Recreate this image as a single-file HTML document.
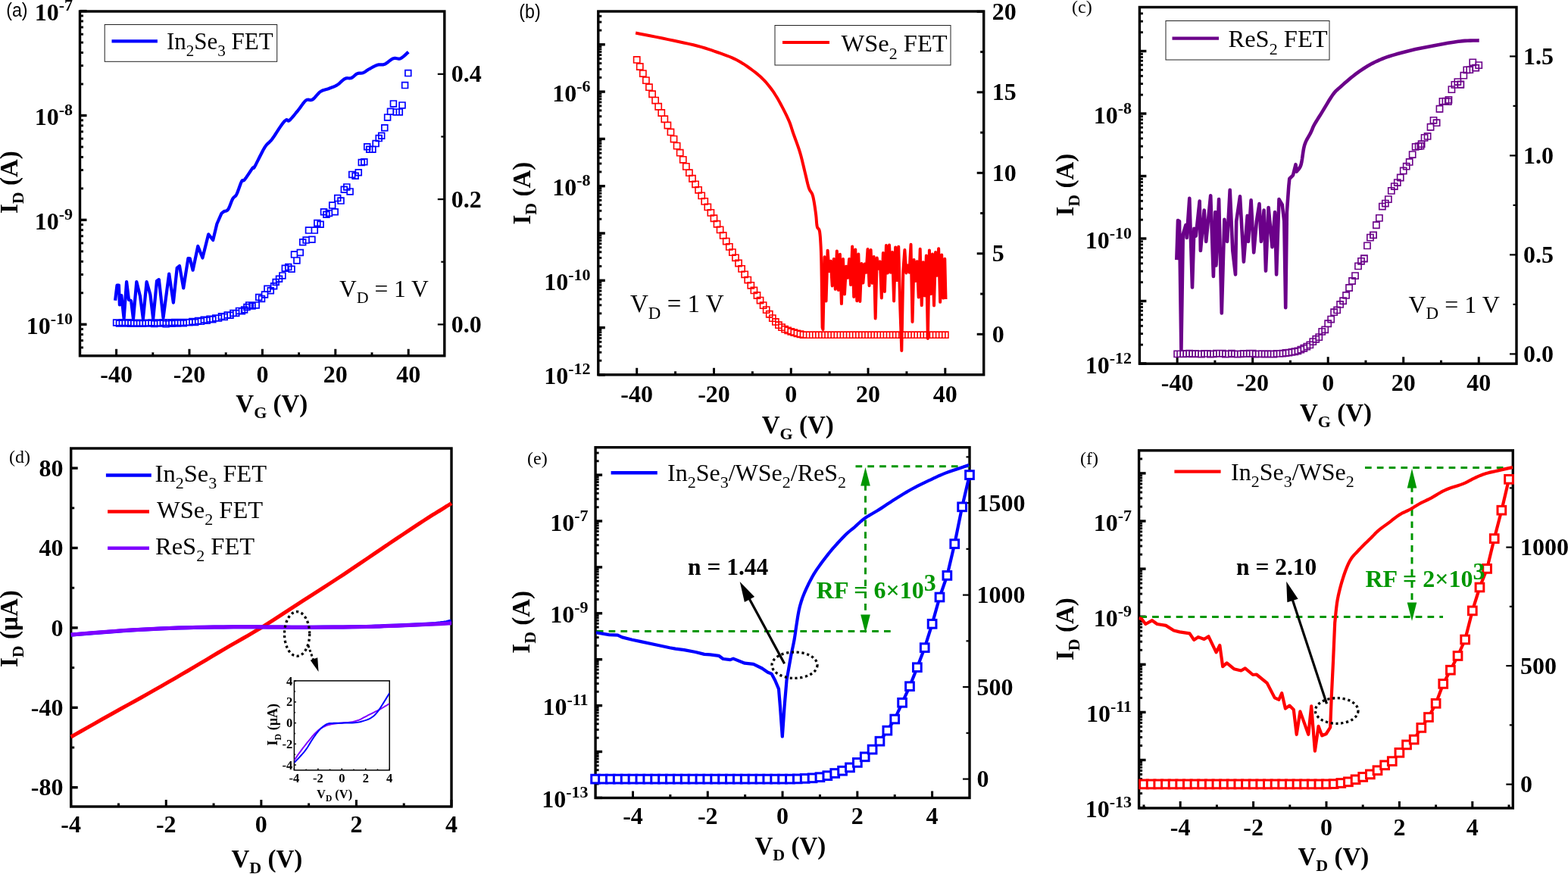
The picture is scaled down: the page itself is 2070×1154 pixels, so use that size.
<!DOCTYPE html>
<html><head><meta charset="utf-8"><style>
html,body{margin:0;padding:0;background:#fff;}
svg{display:block;}
</style></head><body>
<svg width="2070" height="1154" viewBox="0 0 2070 1154">
<rect width="2070" height="1154" fill="#fff"/>
<rect x="105.5" y="15" width="481.3" height="454.8" fill="none" stroke="#000" stroke-width="3.4"/>
<line x1="153.6" y1="469.8" x2="153.6" y2="460.8" stroke="#000" stroke-width="3" />
<line x1="250" y1="469.8" x2="250" y2="460.8" stroke="#000" stroke-width="3" />
<line x1="346.4" y1="469.8" x2="346.4" y2="460.8" stroke="#000" stroke-width="3" />
<line x1="442.8" y1="469.8" x2="442.8" y2="460.8" stroke="#000" stroke-width="3" />
<line x1="539.2" y1="469.8" x2="539.2" y2="460.8" stroke="#000" stroke-width="3" />
<line x1="201.8" y1="469.8" x2="201.8" y2="465.3" stroke="#000" stroke-width="3" />
<line x1="298.2" y1="469.8" x2="298.2" y2="465.3" stroke="#000" stroke-width="3" />
<line x1="394.6" y1="469.8" x2="394.6" y2="465.3" stroke="#000" stroke-width="3" />
<line x1="491" y1="469.8" x2="491" y2="465.3" stroke="#000" stroke-width="3" />
<text x="153.6" y="504.5" font-family="'Liberation Serif','Times New Roman',serif" font-size="32" font-weight="bold" text-anchor="middle" >-40</text>
<text x="250" y="504.5" font-family="'Liberation Serif','Times New Roman',serif" font-size="32" font-weight="bold" text-anchor="middle" >-20</text>
<text x="346.4" y="504.5" font-family="'Liberation Serif','Times New Roman',serif" font-size="32" font-weight="bold" text-anchor="middle" >0</text>
<text x="442.8" y="504.5" font-family="'Liberation Serif','Times New Roman',serif" font-size="32" font-weight="bold" text-anchor="middle" >20</text>
<text x="539.2" y="504.5" font-family="'Liberation Serif','Times New Roman',serif" font-size="32" font-weight="bold" text-anchor="middle" >40</text>
<line x1="105.5" y1="14.6" x2="114.5" y2="14.6" stroke="#000" stroke-width="3.4" />
<line x1="105.5" y1="152.5" x2="114.5" y2="152.5" stroke="#000" stroke-width="3.4" />
<line x1="105.5" y1="290.4" x2="114.5" y2="290.4" stroke="#000" stroke-width="3.4" />
<line x1="105.5" y1="428.3" x2="114.5" y2="428.3" stroke="#000" stroke-width="3.4" />
<line x1="105.5" y1="458.89" x2="110" y2="458.89" stroke="#000" stroke-width="2.9" />
<line x1="105.5" y1="449.66" x2="110" y2="449.66" stroke="#000" stroke-width="2.9" />
<line x1="105.5" y1="441.66" x2="110" y2="441.66" stroke="#000" stroke-width="2.9" />
<line x1="105.5" y1="434.61" x2="110" y2="434.61" stroke="#000" stroke-width="2.9" />
<line x1="105.5" y1="386.79" x2="110" y2="386.79" stroke="#000" stroke-width="2.9" />
<line x1="105.5" y1="362.5" x2="110" y2="362.5" stroke="#000" stroke-width="2.9" />
<line x1="105.5" y1="345.28" x2="110" y2="345.28" stroke="#000" stroke-width="2.9" />
<line x1="105.5" y1="331.91" x2="110" y2="331.91" stroke="#000" stroke-width="2.9" />
<line x1="105.5" y1="320.99" x2="110" y2="320.99" stroke="#000" stroke-width="2.9" />
<line x1="105.5" y1="311.76" x2="110" y2="311.76" stroke="#000" stroke-width="2.9" />
<line x1="105.5" y1="303.76" x2="110" y2="303.76" stroke="#000" stroke-width="2.9" />
<line x1="105.5" y1="296.71" x2="110" y2="296.71" stroke="#000" stroke-width="2.9" />
<line x1="105.5" y1="248.89" x2="110" y2="248.89" stroke="#000" stroke-width="2.9" />
<line x1="105.5" y1="224.6" x2="110" y2="224.6" stroke="#000" stroke-width="2.9" />
<line x1="105.5" y1="207.38" x2="110" y2="207.38" stroke="#000" stroke-width="2.9" />
<line x1="105.5" y1="194.01" x2="110" y2="194.01" stroke="#000" stroke-width="2.9" />
<line x1="105.5" y1="183.09" x2="110" y2="183.09" stroke="#000" stroke-width="2.9" />
<line x1="105.5" y1="173.86" x2="110" y2="173.86" stroke="#000" stroke-width="2.9" />
<line x1="105.5" y1="165.86" x2="110" y2="165.86" stroke="#000" stroke-width="2.9" />
<line x1="105.5" y1="158.81" x2="110" y2="158.81" stroke="#000" stroke-width="2.9" />
<line x1="105.5" y1="110.99" x2="110" y2="110.99" stroke="#000" stroke-width="2.9" />
<line x1="105.5" y1="86.7" x2="110" y2="86.7" stroke="#000" stroke-width="2.9" />
<line x1="105.5" y1="69.48" x2="110" y2="69.48" stroke="#000" stroke-width="2.9" />
<line x1="105.5" y1="56.11" x2="110" y2="56.11" stroke="#000" stroke-width="2.9" />
<line x1="105.5" y1="45.19" x2="110" y2="45.19" stroke="#000" stroke-width="2.9" />
<line x1="105.5" y1="35.96" x2="110" y2="35.96" stroke="#000" stroke-width="2.9" />
<line x1="105.5" y1="27.96" x2="110" y2="27.96" stroke="#000" stroke-width="2.9" />
<line x1="105.5" y1="20.91" x2="110" y2="20.91" stroke="#000" stroke-width="2.9" />
<text x="96" y="27.1" font-family="'Liberation Serif','Times New Roman',serif" font-size="32" font-weight="bold" text-anchor="end">10<tspan font-size="22" dy="-13">-7</tspan></text>
<text x="96" y="165" font-family="'Liberation Serif','Times New Roman',serif" font-size="32" font-weight="bold" text-anchor="end">10<tspan font-size="22" dy="-13">-8</tspan></text>
<text x="96" y="302.9" font-family="'Liberation Serif','Times New Roman',serif" font-size="32" font-weight="bold" text-anchor="end">10<tspan font-size="22" dy="-13">-9</tspan></text>
<text x="96" y="440.8" font-family="'Liberation Serif','Times New Roman',serif" font-size="32" font-weight="bold" text-anchor="end">10<tspan font-size="22" dy="-13">-10</tspan></text>
<line x1="586.8" y1="428.4" x2="577.8" y2="428.4" stroke="#000" stroke-width="2.2" />
<line x1="586.8" y1="263.1" x2="577.8" y2="263.1" stroke="#000" stroke-width="2.2" />
<line x1="586.8" y1="97.8" x2="577.8" y2="97.8" stroke="#000" stroke-width="2.2" />
<line x1="586.8" y1="345.75" x2="582.3" y2="345.75" stroke="#000" stroke-width="2.2" />
<line x1="586.8" y1="180.45" x2="582.3" y2="180.45" stroke="#000" stroke-width="2.2" />
<text x="595.8" y="439" font-family="'Liberation Serif','Times New Roman',serif" font-size="32" font-weight="bold" text-anchor="start" >0.0</text>
<text x="595.8" y="273.7" font-family="'Liberation Serif','Times New Roman',serif" font-size="32" font-weight="bold" text-anchor="start" >0.2</text>
<text x="595.8" y="108.4" font-family="'Liberation Serif','Times New Roman',serif" font-size="32" font-weight="bold" text-anchor="start" >0.4</text>
<text transform="translate(22.7,282) rotate(-90)" font-family="'Liberation Serif','Times New Roman',serif" font-size="33" font-weight="bold">I<tspan font-size="22" dy="8">D</tspan><tspan dy="-8"> (A)</tspan></text>
<text x="311.3" y="543.8" font-family="'Liberation Serif','Times New Roman',serif" font-size="33" font-weight="bold">V<tspan font-size="22" dy="8">G</tspan><tspan dy="-8"> (V)</tspan></text>
<text transform="translate(8.2,21.8) scale(0.91,1)" font-family="'Liberation Sans',Arial,sans-serif" font-size="25.5">(a)</text>
<rect x="138.2" y="32.5" width="227.5" height="48.8" fill="none" stroke="#222" stroke-width="1"/>
<line x1="147.5" y1="54.3" x2="207.9" y2="54.3" stroke="#0000ff" stroke-width="4.2" />
<text x="220" y="64.6" font-family="'Liberation Serif','Times New Roman',serif" font-size="31" xml:space="preserve"><tspan font-size="31" dy="0">In</tspan><tspan font-size="21" dy="9">2</tspan><tspan font-size="31" dy="-9">Se</tspan><tspan font-size="21" dy="9">3</tspan><tspan font-size="31" dy="-9"> FET</tspan></text>
<text x="447.9" y="391.8" font-family="'Liberation Serif','Times New Roman',serif" font-size="31.5" xml:space="preserve"><tspan font-size="31.5" dy="0">V</tspan><tspan font-size="22" dy="8.5">D</tspan><tspan font-size="31.5" dy="-8.5"> = 1 V</tspan></text>
<rect x="789.8" y="15" width="508.9" height="479.8" fill="none" stroke="#000" stroke-width="3.4"/>
<line x1="840.69" y1="494.8" x2="840.69" y2="485.8" stroke="#000" stroke-width="3" />
<line x1="942.47" y1="494.8" x2="942.47" y2="485.8" stroke="#000" stroke-width="3" />
<line x1="1044.25" y1="494.8" x2="1044.25" y2="485.8" stroke="#000" stroke-width="3" />
<line x1="1146.03" y1="494.8" x2="1146.03" y2="485.8" stroke="#000" stroke-width="3" />
<line x1="1247.81" y1="494.8" x2="1247.81" y2="485.8" stroke="#000" stroke-width="3" />
<line x1="891.58" y1="494.8" x2="891.58" y2="490.3" stroke="#000" stroke-width="3" />
<line x1="993.36" y1="494.8" x2="993.36" y2="490.3" stroke="#000" stroke-width="3" />
<line x1="1095.14" y1="494.8" x2="1095.14" y2="490.3" stroke="#000" stroke-width="3" />
<line x1="1196.92" y1="494.8" x2="1196.92" y2="490.3" stroke="#000" stroke-width="3" />
<text x="840.69" y="530.5" font-family="'Liberation Serif','Times New Roman',serif" font-size="32" font-weight="bold" text-anchor="middle" >-40</text>
<text x="942.47" y="530.5" font-family="'Liberation Serif','Times New Roman',serif" font-size="32" font-weight="bold" text-anchor="middle" >-20</text>
<text x="1044.25" y="530.5" font-family="'Liberation Serif','Times New Roman',serif" font-size="32" font-weight="bold" text-anchor="middle" >0</text>
<text x="1146.03" y="530.5" font-family="'Liberation Serif','Times New Roman',serif" font-size="32" font-weight="bold" text-anchor="middle" >20</text>
<text x="1247.81" y="530.5" font-family="'Liberation Serif','Times New Roman',serif" font-size="32" font-weight="bold" text-anchor="middle" >40</text>
<line x1="789.8" y1="494.9" x2="798.8" y2="494.9" stroke="#000" stroke-width="3.4" />
<line x1="789.8" y1="432.6" x2="798.8" y2="432.6" stroke="#000" stroke-width="3.4" />
<line x1="789.8" y1="370.3" x2="798.8" y2="370.3" stroke="#000" stroke-width="3.4" />
<line x1="789.8" y1="308" x2="798.8" y2="308" stroke="#000" stroke-width="3.4" />
<line x1="789.8" y1="245.7" x2="798.8" y2="245.7" stroke="#000" stroke-width="3.4" />
<line x1="789.8" y1="183.4" x2="798.8" y2="183.4" stroke="#000" stroke-width="3.4" />
<line x1="789.8" y1="121.1" x2="798.8" y2="121.1" stroke="#000" stroke-width="3.4" />
<line x1="789.8" y1="58.8" x2="798.8" y2="58.8" stroke="#000" stroke-width="3.4" />
<line x1="789.8" y1="476.15" x2="794.3" y2="476.15" stroke="#000" stroke-width="2.9" />
<line x1="789.8" y1="465.18" x2="794.3" y2="465.18" stroke="#000" stroke-width="2.9" />
<line x1="789.8" y1="457.39" x2="794.3" y2="457.39" stroke="#000" stroke-width="2.9" />
<line x1="789.8" y1="451.35" x2="794.3" y2="451.35" stroke="#000" stroke-width="2.9" />
<line x1="789.8" y1="446.42" x2="794.3" y2="446.42" stroke="#000" stroke-width="2.9" />
<line x1="789.8" y1="442.25" x2="794.3" y2="442.25" stroke="#000" stroke-width="2.9" />
<line x1="789.8" y1="438.64" x2="794.3" y2="438.64" stroke="#000" stroke-width="2.9" />
<line x1="789.8" y1="435.45" x2="794.3" y2="435.45" stroke="#000" stroke-width="2.9" />
<line x1="789.8" y1="413.85" x2="794.3" y2="413.85" stroke="#000" stroke-width="2.9" />
<line x1="789.8" y1="402.88" x2="794.3" y2="402.88" stroke="#000" stroke-width="2.9" />
<line x1="789.8" y1="395.09" x2="794.3" y2="395.09" stroke="#000" stroke-width="2.9" />
<line x1="789.8" y1="389.05" x2="794.3" y2="389.05" stroke="#000" stroke-width="2.9" />
<line x1="789.8" y1="384.12" x2="794.3" y2="384.12" stroke="#000" stroke-width="2.9" />
<line x1="789.8" y1="379.95" x2="794.3" y2="379.95" stroke="#000" stroke-width="2.9" />
<line x1="789.8" y1="376.34" x2="794.3" y2="376.34" stroke="#000" stroke-width="2.9" />
<line x1="789.8" y1="373.15" x2="794.3" y2="373.15" stroke="#000" stroke-width="2.9" />
<line x1="789.8" y1="351.55" x2="794.3" y2="351.55" stroke="#000" stroke-width="2.9" />
<line x1="789.8" y1="340.58" x2="794.3" y2="340.58" stroke="#000" stroke-width="2.9" />
<line x1="789.8" y1="332.79" x2="794.3" y2="332.79" stroke="#000" stroke-width="2.9" />
<line x1="789.8" y1="326.75" x2="794.3" y2="326.75" stroke="#000" stroke-width="2.9" />
<line x1="789.8" y1="321.82" x2="794.3" y2="321.82" stroke="#000" stroke-width="2.9" />
<line x1="789.8" y1="317.65" x2="794.3" y2="317.65" stroke="#000" stroke-width="2.9" />
<line x1="789.8" y1="314.04" x2="794.3" y2="314.04" stroke="#000" stroke-width="2.9" />
<line x1="789.8" y1="310.85" x2="794.3" y2="310.85" stroke="#000" stroke-width="2.9" />
<line x1="789.8" y1="289.25" x2="794.3" y2="289.25" stroke="#000" stroke-width="2.9" />
<line x1="789.8" y1="278.28" x2="794.3" y2="278.28" stroke="#000" stroke-width="2.9" />
<line x1="789.8" y1="270.49" x2="794.3" y2="270.49" stroke="#000" stroke-width="2.9" />
<line x1="789.8" y1="264.45" x2="794.3" y2="264.45" stroke="#000" stroke-width="2.9" />
<line x1="789.8" y1="259.52" x2="794.3" y2="259.52" stroke="#000" stroke-width="2.9" />
<line x1="789.8" y1="255.35" x2="794.3" y2="255.35" stroke="#000" stroke-width="2.9" />
<line x1="789.8" y1="251.74" x2="794.3" y2="251.74" stroke="#000" stroke-width="2.9" />
<line x1="789.8" y1="248.55" x2="794.3" y2="248.55" stroke="#000" stroke-width="2.9" />
<line x1="789.8" y1="226.95" x2="794.3" y2="226.95" stroke="#000" stroke-width="2.9" />
<line x1="789.8" y1="215.98" x2="794.3" y2="215.98" stroke="#000" stroke-width="2.9" />
<line x1="789.8" y1="208.19" x2="794.3" y2="208.19" stroke="#000" stroke-width="2.9" />
<line x1="789.8" y1="202.15" x2="794.3" y2="202.15" stroke="#000" stroke-width="2.9" />
<line x1="789.8" y1="197.22" x2="794.3" y2="197.22" stroke="#000" stroke-width="2.9" />
<line x1="789.8" y1="193.05" x2="794.3" y2="193.05" stroke="#000" stroke-width="2.9" />
<line x1="789.8" y1="189.44" x2="794.3" y2="189.44" stroke="#000" stroke-width="2.9" />
<line x1="789.8" y1="186.25" x2="794.3" y2="186.25" stroke="#000" stroke-width="2.9" />
<line x1="789.8" y1="164.65" x2="794.3" y2="164.65" stroke="#000" stroke-width="2.9" />
<line x1="789.8" y1="153.68" x2="794.3" y2="153.68" stroke="#000" stroke-width="2.9" />
<line x1="789.8" y1="145.89" x2="794.3" y2="145.89" stroke="#000" stroke-width="2.9" />
<line x1="789.8" y1="139.85" x2="794.3" y2="139.85" stroke="#000" stroke-width="2.9" />
<line x1="789.8" y1="134.92" x2="794.3" y2="134.92" stroke="#000" stroke-width="2.9" />
<line x1="789.8" y1="130.75" x2="794.3" y2="130.75" stroke="#000" stroke-width="2.9" />
<line x1="789.8" y1="127.14" x2="794.3" y2="127.14" stroke="#000" stroke-width="2.9" />
<line x1="789.8" y1="123.95" x2="794.3" y2="123.95" stroke="#000" stroke-width="2.9" />
<line x1="789.8" y1="102.35" x2="794.3" y2="102.35" stroke="#000" stroke-width="2.9" />
<line x1="789.8" y1="91.38" x2="794.3" y2="91.38" stroke="#000" stroke-width="2.9" />
<line x1="789.8" y1="83.59" x2="794.3" y2="83.59" stroke="#000" stroke-width="2.9" />
<line x1="789.8" y1="77.55" x2="794.3" y2="77.55" stroke="#000" stroke-width="2.9" />
<line x1="789.8" y1="72.62" x2="794.3" y2="72.62" stroke="#000" stroke-width="2.9" />
<line x1="789.8" y1="68.45" x2="794.3" y2="68.45" stroke="#000" stroke-width="2.9" />
<line x1="789.8" y1="64.84" x2="794.3" y2="64.84" stroke="#000" stroke-width="2.9" />
<line x1="789.8" y1="61.65" x2="794.3" y2="61.65" stroke="#000" stroke-width="2.9" />
<line x1="789.8" y1="40.05" x2="794.3" y2="40.05" stroke="#000" stroke-width="2.9" />
<line x1="789.8" y1="29.08" x2="794.3" y2="29.08" stroke="#000" stroke-width="2.9" />
<line x1="789.8" y1="21.29" x2="794.3" y2="21.29" stroke="#000" stroke-width="2.9" />
<text x="779.5" y="133.6" font-family="'Liberation Serif','Times New Roman',serif" font-size="32" font-weight="bold" text-anchor="end">10<tspan font-size="22" dy="-13">-6</tspan></text>
<text x="779.5" y="258.2" font-family="'Liberation Serif','Times New Roman',serif" font-size="32" font-weight="bold" text-anchor="end">10<tspan font-size="22" dy="-13">-8</tspan></text>
<text x="779.5" y="382.8" font-family="'Liberation Serif','Times New Roman',serif" font-size="32" font-weight="bold" text-anchor="end">10<tspan font-size="22" dy="-13">-10</tspan></text>
<text x="779.5" y="507.4" font-family="'Liberation Serif','Times New Roman',serif" font-size="32" font-weight="bold" text-anchor="end">10<tspan font-size="22" dy="-13">-12</tspan></text>
<line x1="1298.7" y1="441.3" x2="1289.7" y2="441.3" stroke="#000" stroke-width="3" />
<line x1="1298.7" y1="334.8" x2="1289.7" y2="334.8" stroke="#000" stroke-width="3" />
<line x1="1298.7" y1="228.3" x2="1289.7" y2="228.3" stroke="#000" stroke-width="3" />
<line x1="1298.7" y1="121.8" x2="1289.7" y2="121.8" stroke="#000" stroke-width="3" />
<line x1="1298.7" y1="15.3" x2="1289.7" y2="15.3" stroke="#000" stroke-width="3" />
<line x1="1298.7" y1="388.05" x2="1294.2" y2="388.05" stroke="#000" stroke-width="3" />
<line x1="1298.7" y1="281.55" x2="1294.2" y2="281.55" stroke="#000" stroke-width="3" />
<line x1="1298.7" y1="175.05" x2="1294.2" y2="175.05" stroke="#000" stroke-width="3" />
<line x1="1298.7" y1="68.55" x2="1294.2" y2="68.55" stroke="#000" stroke-width="3" />
<text x="1309.8" y="451.9" font-family="'Liberation Serif','Times New Roman',serif" font-size="32" font-weight="bold" text-anchor="start" >0</text>
<text x="1309.8" y="345.4" font-family="'Liberation Serif','Times New Roman',serif" font-size="32" font-weight="bold" text-anchor="start" >5</text>
<text x="1309.8" y="238.9" font-family="'Liberation Serif','Times New Roman',serif" font-size="32" font-weight="bold" text-anchor="start" >10</text>
<text x="1309.8" y="132.4" font-family="'Liberation Serif','Times New Roman',serif" font-size="32" font-weight="bold" text-anchor="start" >15</text>
<text x="1309.8" y="25.9" font-family="'Liberation Serif','Times New Roman',serif" font-size="32" font-weight="bold" text-anchor="start" >20</text>
<text transform="translate(700.2,296.5) rotate(-90)" font-family="'Liberation Serif','Times New Roman',serif" font-size="33" font-weight="bold">I<tspan font-size="22" dy="8">D</tspan><tspan dy="-8"> (A)</tspan></text>
<text x="1005.7" y="571.5" font-family="'Liberation Serif','Times New Roman',serif" font-size="33" font-weight="bold">V<tspan font-size="22" dy="8">G</tspan><tspan dy="-8"> (V)</tspan></text>
<text transform="translate(685.3,23.6) scale(0.91,1)" font-family="'Liberation Sans',Arial,sans-serif" font-size="25.5">(b)</text>
<rect x="1023" y="33.5" width="232" height="52.5" fill="none" stroke="#222" stroke-width="1"/>
<line x1="1033" y1="56" x2="1095" y2="56" stroke="#ff0000" stroke-width="4.2" />
<text x="1110.5" y="68" font-family="'Liberation Serif','Times New Roman',serif" font-size="32.5" xml:space="preserve"><tspan font-size="32.5" dy="0">WSe</tspan><tspan font-size="22" dy="9.5">2</tspan><tspan font-size="32.5" dy="-9.5"> FET</tspan></text>
<text x="832" y="412" font-family="'Liberation Serif','Times New Roman',serif" font-size="33" xml:space="preserve"><tspan font-size="33" dy="0">V</tspan><tspan font-size="23" dy="8.5">D</tspan><tspan font-size="33" dy="-8.5"> = 1 V</tspan></text>
<rect x="1504.4" y="9.5" width="497.6" height="470.7" fill="none" stroke="#000" stroke-width="3.4"/>
<line x1="1554.16" y1="480.2" x2="1554.16" y2="471.2" stroke="#000" stroke-width="3" />
<line x1="1653.68" y1="480.2" x2="1653.68" y2="471.2" stroke="#000" stroke-width="3" />
<line x1="1753.2" y1="480.2" x2="1753.2" y2="471.2" stroke="#000" stroke-width="3" />
<line x1="1852.72" y1="480.2" x2="1852.72" y2="471.2" stroke="#000" stroke-width="3" />
<line x1="1952.24" y1="480.2" x2="1952.24" y2="471.2" stroke="#000" stroke-width="3" />
<line x1="1603.92" y1="480.2" x2="1603.92" y2="475.7" stroke="#000" stroke-width="3" />
<line x1="1703.44" y1="480.2" x2="1703.44" y2="475.7" stroke="#000" stroke-width="3" />
<line x1="1802.96" y1="480.2" x2="1802.96" y2="475.7" stroke="#000" stroke-width="3" />
<line x1="1902.48" y1="480.2" x2="1902.48" y2="475.7" stroke="#000" stroke-width="3" />
<text x="1554.16" y="516" font-family="'Liberation Serif','Times New Roman',serif" font-size="32" font-weight="bold" text-anchor="middle" >-40</text>
<text x="1653.68" y="516" font-family="'Liberation Serif','Times New Roman',serif" font-size="32" font-weight="bold" text-anchor="middle" >-20</text>
<text x="1753.2" y="516" font-family="'Liberation Serif','Times New Roman',serif" font-size="32" font-weight="bold" text-anchor="middle" >0</text>
<text x="1852.72" y="516" font-family="'Liberation Serif','Times New Roman',serif" font-size="32" font-weight="bold" text-anchor="middle" >20</text>
<text x="1952.24" y="516" font-family="'Liberation Serif','Times New Roman',serif" font-size="32" font-weight="bold" text-anchor="middle" >40</text>
<line x1="1504.4" y1="480" x2="1513.4" y2="480" stroke="#000" stroke-width="3.4" />
<line x1="1504.4" y1="397.5" x2="1513.4" y2="397.5" stroke="#000" stroke-width="3.4" />
<line x1="1504.4" y1="315" x2="1513.4" y2="315" stroke="#000" stroke-width="3.4" />
<line x1="1504.4" y1="232.5" x2="1513.4" y2="232.5" stroke="#000" stroke-width="3.4" />
<line x1="1504.4" y1="150" x2="1513.4" y2="150" stroke="#000" stroke-width="3.4" />
<line x1="1504.4" y1="67.5" x2="1513.4" y2="67.5" stroke="#000" stroke-width="3.4" />
<line x1="1504.4" y1="455.17" x2="1508.9" y2="455.17" stroke="#000" stroke-width="2.9" />
<line x1="1504.4" y1="440.64" x2="1508.9" y2="440.64" stroke="#000" stroke-width="2.9" />
<line x1="1504.4" y1="430.33" x2="1508.9" y2="430.33" stroke="#000" stroke-width="2.9" />
<line x1="1504.4" y1="422.33" x2="1508.9" y2="422.33" stroke="#000" stroke-width="2.9" />
<line x1="1504.4" y1="415.8" x2="1508.9" y2="415.8" stroke="#000" stroke-width="2.9" />
<line x1="1504.4" y1="410.28" x2="1508.9" y2="410.28" stroke="#000" stroke-width="2.9" />
<line x1="1504.4" y1="405.5" x2="1508.9" y2="405.5" stroke="#000" stroke-width="2.9" />
<line x1="1504.4" y1="401.27" x2="1508.9" y2="401.27" stroke="#000" stroke-width="2.9" />
<line x1="1504.4" y1="372.67" x2="1508.9" y2="372.67" stroke="#000" stroke-width="2.9" />
<line x1="1504.4" y1="358.14" x2="1508.9" y2="358.14" stroke="#000" stroke-width="2.9" />
<line x1="1504.4" y1="347.83" x2="1508.9" y2="347.83" stroke="#000" stroke-width="2.9" />
<line x1="1504.4" y1="339.83" x2="1508.9" y2="339.83" stroke="#000" stroke-width="2.9" />
<line x1="1504.4" y1="333.3" x2="1508.9" y2="333.3" stroke="#000" stroke-width="2.9" />
<line x1="1504.4" y1="327.78" x2="1508.9" y2="327.78" stroke="#000" stroke-width="2.9" />
<line x1="1504.4" y1="323" x2="1508.9" y2="323" stroke="#000" stroke-width="2.9" />
<line x1="1504.4" y1="318.77" x2="1508.9" y2="318.77" stroke="#000" stroke-width="2.9" />
<line x1="1504.4" y1="290.17" x2="1508.9" y2="290.17" stroke="#000" stroke-width="2.9" />
<line x1="1504.4" y1="275.64" x2="1508.9" y2="275.64" stroke="#000" stroke-width="2.9" />
<line x1="1504.4" y1="265.33" x2="1508.9" y2="265.33" stroke="#000" stroke-width="2.9" />
<line x1="1504.4" y1="257.33" x2="1508.9" y2="257.33" stroke="#000" stroke-width="2.9" />
<line x1="1504.4" y1="250.8" x2="1508.9" y2="250.8" stroke="#000" stroke-width="2.9" />
<line x1="1504.4" y1="245.28" x2="1508.9" y2="245.28" stroke="#000" stroke-width="2.9" />
<line x1="1504.4" y1="240.5" x2="1508.9" y2="240.5" stroke="#000" stroke-width="2.9" />
<line x1="1504.4" y1="236.27" x2="1508.9" y2="236.27" stroke="#000" stroke-width="2.9" />
<line x1="1504.4" y1="207.67" x2="1508.9" y2="207.67" stroke="#000" stroke-width="2.9" />
<line x1="1504.4" y1="193.14" x2="1508.9" y2="193.14" stroke="#000" stroke-width="2.9" />
<line x1="1504.4" y1="182.83" x2="1508.9" y2="182.83" stroke="#000" stroke-width="2.9" />
<line x1="1504.4" y1="174.83" x2="1508.9" y2="174.83" stroke="#000" stroke-width="2.9" />
<line x1="1504.4" y1="168.3" x2="1508.9" y2="168.3" stroke="#000" stroke-width="2.9" />
<line x1="1504.4" y1="162.78" x2="1508.9" y2="162.78" stroke="#000" stroke-width="2.9" />
<line x1="1504.4" y1="158" x2="1508.9" y2="158" stroke="#000" stroke-width="2.9" />
<line x1="1504.4" y1="153.77" x2="1508.9" y2="153.77" stroke="#000" stroke-width="2.9" />
<line x1="1504.4" y1="125.17" x2="1508.9" y2="125.17" stroke="#000" stroke-width="2.9" />
<line x1="1504.4" y1="110.64" x2="1508.9" y2="110.64" stroke="#000" stroke-width="2.9" />
<line x1="1504.4" y1="100.33" x2="1508.9" y2="100.33" stroke="#000" stroke-width="2.9" />
<line x1="1504.4" y1="92.33" x2="1508.9" y2="92.33" stroke="#000" stroke-width="2.9" />
<line x1="1504.4" y1="85.8" x2="1508.9" y2="85.8" stroke="#000" stroke-width="2.9" />
<line x1="1504.4" y1="80.28" x2="1508.9" y2="80.28" stroke="#000" stroke-width="2.9" />
<line x1="1504.4" y1="75.5" x2="1508.9" y2="75.5" stroke="#000" stroke-width="2.9" />
<line x1="1504.4" y1="71.27" x2="1508.9" y2="71.27" stroke="#000" stroke-width="2.9" />
<line x1="1504.4" y1="42.67" x2="1508.9" y2="42.67" stroke="#000" stroke-width="2.9" />
<line x1="1504.4" y1="28.14" x2="1508.9" y2="28.14" stroke="#000" stroke-width="2.9" />
<line x1="1504.4" y1="17.83" x2="1508.9" y2="17.83" stroke="#000" stroke-width="2.9" />
<text x="1494" y="162.5" font-family="'Liberation Serif','Times New Roman',serif" font-size="32" font-weight="bold" text-anchor="end">10<tspan font-size="22" dy="-13">-8</tspan></text>
<text x="1494" y="327.5" font-family="'Liberation Serif','Times New Roman',serif" font-size="32" font-weight="bold" text-anchor="end">10<tspan font-size="22" dy="-13">-10</tspan></text>
<text x="1494" y="492.5" font-family="'Liberation Serif','Times New Roman',serif" font-size="32" font-weight="bold" text-anchor="end">10<tspan font-size="22" dy="-13">-12</tspan></text>
<line x1="2002" y1="467.4" x2="1993" y2="467.4" stroke="#000" stroke-width="2.2" />
<line x1="2002" y1="336.4" x2="1993" y2="336.4" stroke="#000" stroke-width="2.2" />
<line x1="2002" y1="205.4" x2="1993" y2="205.4" stroke="#000" stroke-width="2.2" />
<line x1="2002" y1="74.4" x2="1993" y2="74.4" stroke="#000" stroke-width="2.2" />
<line x1="2002" y1="401.9" x2="1997.5" y2="401.9" stroke="#000" stroke-width="2.2" />
<line x1="2002" y1="270.9" x2="1997.5" y2="270.9" stroke="#000" stroke-width="2.2" />
<line x1="2002" y1="139.9" x2="1997.5" y2="139.9" stroke="#000" stroke-width="2.2" />
<text x="2011" y="478" font-family="'Liberation Serif','Times New Roman',serif" font-size="32" font-weight="bold" text-anchor="start" >0.0</text>
<text x="2011" y="347" font-family="'Liberation Serif','Times New Roman',serif" font-size="32" font-weight="bold" text-anchor="start" >0.5</text>
<text x="2011" y="216" font-family="'Liberation Serif','Times New Roman',serif" font-size="32" font-weight="bold" text-anchor="start" >1.0</text>
<text x="2011" y="85" font-family="'Liberation Serif','Times New Roman',serif" font-size="32" font-weight="bold" text-anchor="start" >1.5</text>
<text transform="translate(1417,285.5) rotate(-90)" font-family="'Liberation Serif','Times New Roman',serif" font-size="33" font-weight="bold">I<tspan font-size="22" dy="8">D</tspan><tspan dy="-8"> (A)</tspan></text>
<text x="1716" y="555.5" font-family="'Liberation Serif','Times New Roman',serif" font-size="33" font-weight="bold">V<tspan font-size="22" dy="8">G</tspan><tspan dy="-8"> (V)</tspan></text>
<text x="1415" y="17" font-family="'Liberation Serif','Times New Roman',serif" font-size="24" font-weight="normal" text-anchor="start" >(c)</text>
<rect x="1539" y="27.5" width="216" height="51.5" fill="none" stroke="#222" stroke-width="1"/>
<line x1="1547.5" y1="50.7" x2="1609" y2="50.7" stroke="#6b0089" stroke-width="4.3" />
<text x="1621.5" y="62.3" font-family="'Liberation Serif','Times New Roman',serif" font-size="32.5" xml:space="preserve"><tspan font-size="32.5" dy="0">ReS</tspan><tspan font-size="22" dy="9.5">2</tspan><tspan font-size="32.5" dy="-9.5"> FET</tspan></text>
<text x="1859.5" y="412.5" font-family="'Liberation Serif','Times New Roman',serif" font-size="32" xml:space="preserve"><tspan font-size="32" dy="0">V</tspan><tspan font-size="23" dy="8.5">D</tspan><tspan font-size="32" dy="-8.5"> = 1 V</tspan></text>
<rect x="93.7" y="592" width="502.3" height="473" fill="none" stroke="#000" stroke-width="3.4"/>
<line x1="93.69" y1="1065" x2="93.69" y2="1056" stroke="#000" stroke-width="3" />
<line x1="219.27" y1="1065" x2="219.27" y2="1056" stroke="#000" stroke-width="3" />
<line x1="344.85" y1="1065" x2="344.85" y2="1056" stroke="#000" stroke-width="3" />
<line x1="470.43" y1="1065" x2="470.43" y2="1056" stroke="#000" stroke-width="3" />
<line x1="596.01" y1="1065" x2="596.01" y2="1056" stroke="#000" stroke-width="3" />
<line x1="156.48" y1="1065" x2="156.48" y2="1060.5" stroke="#000" stroke-width="3" />
<line x1="282.06" y1="1065" x2="282.06" y2="1060.5" stroke="#000" stroke-width="3" />
<line x1="407.64" y1="1065" x2="407.64" y2="1060.5" stroke="#000" stroke-width="3" />
<line x1="533.22" y1="1065" x2="533.22" y2="1060.5" stroke="#000" stroke-width="3" />
<text x="93.69" y="1099" font-family="'Liberation Serif','Times New Roman',serif" font-size="32" font-weight="bold" text-anchor="middle" >-4</text>
<text x="219.27" y="1099" font-family="'Liberation Serif','Times New Roman',serif" font-size="32" font-weight="bold" text-anchor="middle" >-2</text>
<text x="344.85" y="1099" font-family="'Liberation Serif','Times New Roman',serif" font-size="32" font-weight="bold" text-anchor="middle" >0</text>
<text x="470.43" y="1099" font-family="'Liberation Serif','Times New Roman',serif" font-size="32" font-weight="bold" text-anchor="middle" >2</text>
<text x="596.01" y="1099" font-family="'Liberation Serif','Times New Roman',serif" font-size="32" font-weight="bold" text-anchor="middle" >4</text>
<line x1="93.7" y1="618.1" x2="102.7" y2="618.1" stroke="#000" stroke-width="3.4" />
<line x1="93.7" y1="723.5" x2="102.7" y2="723.5" stroke="#000" stroke-width="3.4" />
<line x1="93.7" y1="828.9" x2="102.7" y2="828.9" stroke="#000" stroke-width="3.4" />
<line x1="93.7" y1="934.3" x2="102.7" y2="934.3" stroke="#000" stroke-width="3.4" />
<line x1="93.7" y1="1039.7" x2="102.7" y2="1039.7" stroke="#000" stroke-width="3.4" />
<line x1="93.7" y1="670.8" x2="98.2" y2="670.8" stroke="#000" stroke-width="2.9" />
<line x1="93.7" y1="776.2" x2="98.2" y2="776.2" stroke="#000" stroke-width="2.9" />
<line x1="93.7" y1="881.6" x2="98.2" y2="881.6" stroke="#000" stroke-width="2.9" />
<line x1="93.7" y1="987" x2="98.2" y2="987" stroke="#000" stroke-width="2.9" />
<text x="83.5" y="628.7" font-family="'Liberation Serif','Times New Roman',serif" font-size="32" font-weight="bold" text-anchor="end" >80</text>
<text x="83.5" y="734.1" font-family="'Liberation Serif','Times New Roman',serif" font-size="32" font-weight="bold" text-anchor="end" >40</text>
<text x="83.5" y="839.5" font-family="'Liberation Serif','Times New Roman',serif" font-size="32" font-weight="bold" text-anchor="end" >0</text>
<text x="83.5" y="944.9" font-family="'Liberation Serif','Times New Roman',serif" font-size="32" font-weight="bold" text-anchor="end" >-40</text>
<text x="83.5" y="1050.3" font-family="'Liberation Serif','Times New Roman',serif" font-size="32" font-weight="bold" text-anchor="end" >-80</text>
<text transform="translate(22.9,881) rotate(-90)" font-family="'Liberation Serif','Times New Roman',serif" font-size="33" font-weight="bold">I<tspan font-size="22" dy="8">D</tspan><tspan dy="-8"> (µA)</tspan></text>
<text x="305.5" y="1144.5" font-family="'Liberation Serif','Times New Roman',serif" font-size="33" font-weight="bold">V<tspan font-size="22" dy="8">D</tspan><tspan dy="-8"> (V)</tspan></text>
<text x="12" y="611" font-family="'Liberation Serif','Times New Roman',serif" font-size="24" font-weight="normal" text-anchor="start" >(d)</text>
<line x1="139.9" y1="627.5" x2="199.8" y2="627.5" stroke="#0000ff" stroke-width="4.4" />
<line x1="142.1" y1="675.5" x2="197" y2="675.5" stroke="#ff0000" stroke-width="4.4" />
<line x1="142.1" y1="723.7" x2="197" y2="723.7" stroke="#7f00ff" stroke-width="4.4" />
<text x="204.6" y="636.4" font-family="'Liberation Serif','Times New Roman',serif" font-size="32.5" xml:space="preserve"><tspan font-size="32.5" dy="0">In</tspan><tspan font-size="22" dy="9">2</tspan><tspan font-size="32.5" dy="-9">Se</tspan><tspan font-size="22" dy="9">3</tspan><tspan font-size="32.5" dy="-9"> FET</tspan></text>
<text x="207" y="684.3" font-family="'Liberation Serif','Times New Roman',serif" font-size="32.5" xml:space="preserve"><tspan font-size="32.5" dy="0">WSe</tspan><tspan font-size="22" dy="9">2</tspan><tspan font-size="32.5" dy="-9"> FET</tspan></text>
<text x="205" y="732.2" font-family="'Liberation Serif','Times New Roman',serif" font-size="32.5" xml:space="preserve"><tspan font-size="32.5" dy="0">ReS</tspan><tspan font-size="22" dy="9">2</tspan><tspan font-size="32.5" dy="-9"> FET</tspan></text>
<rect x="786.1" y="590.7" width="493.9" height="462.8" fill="none" stroke="#000" stroke-width="3.4"/>
<line x1="835.49" y1="1053.5" x2="835.49" y2="1044.5" stroke="#000" stroke-width="3" />
<line x1="934.27" y1="1053.5" x2="934.27" y2="1044.5" stroke="#000" stroke-width="3" />
<line x1="1033.05" y1="1053.5" x2="1033.05" y2="1044.5" stroke="#000" stroke-width="3" />
<line x1="1131.83" y1="1053.5" x2="1131.83" y2="1044.5" stroke="#000" stroke-width="3" />
<line x1="1230.61" y1="1053.5" x2="1230.61" y2="1044.5" stroke="#000" stroke-width="3" />
<line x1="884.88" y1="1053.5" x2="884.88" y2="1049" stroke="#000" stroke-width="3" />
<line x1="983.66" y1="1053.5" x2="983.66" y2="1049" stroke="#000" stroke-width="3" />
<line x1="1082.44" y1="1053.5" x2="1082.44" y2="1049" stroke="#000" stroke-width="3" />
<line x1="1181.22" y1="1053.5" x2="1181.22" y2="1049" stroke="#000" stroke-width="3" />
<text x="835.49" y="1088" font-family="'Liberation Serif','Times New Roman',serif" font-size="32" font-weight="bold" text-anchor="middle" >-4</text>
<text x="934.27" y="1088" font-family="'Liberation Serif','Times New Roman',serif" font-size="32" font-weight="bold" text-anchor="middle" >-2</text>
<text x="1033.05" y="1088" font-family="'Liberation Serif','Times New Roman',serif" font-size="32" font-weight="bold" text-anchor="middle" >0</text>
<text x="1131.83" y="1088" font-family="'Liberation Serif','Times New Roman',serif" font-size="32" font-weight="bold" text-anchor="middle" >2</text>
<text x="1230.61" y="1088" font-family="'Liberation Serif','Times New Roman',serif" font-size="32" font-weight="bold" text-anchor="middle" >4</text>
<line x1="786.1" y1="1053.4" x2="795.1" y2="1053.4" stroke="#000" stroke-width="3.4" />
<line x1="786.1" y1="992.5" x2="795.1" y2="992.5" stroke="#000" stroke-width="3.4" />
<line x1="786.1" y1="931.6" x2="795.1" y2="931.6" stroke="#000" stroke-width="3.4" />
<line x1="786.1" y1="870.7" x2="795.1" y2="870.7" stroke="#000" stroke-width="3.4" />
<line x1="786.1" y1="809.8" x2="795.1" y2="809.8" stroke="#000" stroke-width="3.4" />
<line x1="786.1" y1="748.9" x2="795.1" y2="748.9" stroke="#000" stroke-width="3.4" />
<line x1="786.1" y1="688" x2="795.1" y2="688" stroke="#000" stroke-width="3.4" />
<line x1="786.1" y1="627.1" x2="795.1" y2="627.1" stroke="#000" stroke-width="3.4" />
<line x1="786.1" y1="1035.07" x2="790.6" y2="1035.07" stroke="#000" stroke-width="2.9" />
<line x1="786.1" y1="1024.34" x2="790.6" y2="1024.34" stroke="#000" stroke-width="2.9" />
<line x1="786.1" y1="1016.73" x2="790.6" y2="1016.73" stroke="#000" stroke-width="2.9" />
<line x1="786.1" y1="1010.83" x2="790.6" y2="1010.83" stroke="#000" stroke-width="2.9" />
<line x1="786.1" y1="1006.01" x2="790.6" y2="1006.01" stroke="#000" stroke-width="2.9" />
<line x1="786.1" y1="1001.93" x2="790.6" y2="1001.93" stroke="#000" stroke-width="2.9" />
<line x1="786.1" y1="998.4" x2="790.6" y2="998.4" stroke="#000" stroke-width="2.9" />
<line x1="786.1" y1="995.29" x2="790.6" y2="995.29" stroke="#000" stroke-width="2.9" />
<line x1="786.1" y1="974.17" x2="790.6" y2="974.17" stroke="#000" stroke-width="2.9" />
<line x1="786.1" y1="963.44" x2="790.6" y2="963.44" stroke="#000" stroke-width="2.9" />
<line x1="786.1" y1="955.83" x2="790.6" y2="955.83" stroke="#000" stroke-width="2.9" />
<line x1="786.1" y1="949.93" x2="790.6" y2="949.93" stroke="#000" stroke-width="2.9" />
<line x1="786.1" y1="945.11" x2="790.6" y2="945.11" stroke="#000" stroke-width="2.9" />
<line x1="786.1" y1="941.03" x2="790.6" y2="941.03" stroke="#000" stroke-width="2.9" />
<line x1="786.1" y1="937.5" x2="790.6" y2="937.5" stroke="#000" stroke-width="2.9" />
<line x1="786.1" y1="934.39" x2="790.6" y2="934.39" stroke="#000" stroke-width="2.9" />
<line x1="786.1" y1="913.27" x2="790.6" y2="913.27" stroke="#000" stroke-width="2.9" />
<line x1="786.1" y1="902.54" x2="790.6" y2="902.54" stroke="#000" stroke-width="2.9" />
<line x1="786.1" y1="894.93" x2="790.6" y2="894.93" stroke="#000" stroke-width="2.9" />
<line x1="786.1" y1="889.03" x2="790.6" y2="889.03" stroke="#000" stroke-width="2.9" />
<line x1="786.1" y1="884.21" x2="790.6" y2="884.21" stroke="#000" stroke-width="2.9" />
<line x1="786.1" y1="880.13" x2="790.6" y2="880.13" stroke="#000" stroke-width="2.9" />
<line x1="786.1" y1="876.6" x2="790.6" y2="876.6" stroke="#000" stroke-width="2.9" />
<line x1="786.1" y1="873.49" x2="790.6" y2="873.49" stroke="#000" stroke-width="2.9" />
<line x1="786.1" y1="852.37" x2="790.6" y2="852.37" stroke="#000" stroke-width="2.9" />
<line x1="786.1" y1="841.64" x2="790.6" y2="841.64" stroke="#000" stroke-width="2.9" />
<line x1="786.1" y1="834.03" x2="790.6" y2="834.03" stroke="#000" stroke-width="2.9" />
<line x1="786.1" y1="828.13" x2="790.6" y2="828.13" stroke="#000" stroke-width="2.9" />
<line x1="786.1" y1="823.31" x2="790.6" y2="823.31" stroke="#000" stroke-width="2.9" />
<line x1="786.1" y1="819.23" x2="790.6" y2="819.23" stroke="#000" stroke-width="2.9" />
<line x1="786.1" y1="815.7" x2="790.6" y2="815.7" stroke="#000" stroke-width="2.9" />
<line x1="786.1" y1="812.59" x2="790.6" y2="812.59" stroke="#000" stroke-width="2.9" />
<line x1="786.1" y1="791.47" x2="790.6" y2="791.47" stroke="#000" stroke-width="2.9" />
<line x1="786.1" y1="780.74" x2="790.6" y2="780.74" stroke="#000" stroke-width="2.9" />
<line x1="786.1" y1="773.13" x2="790.6" y2="773.13" stroke="#000" stroke-width="2.9" />
<line x1="786.1" y1="767.23" x2="790.6" y2="767.23" stroke="#000" stroke-width="2.9" />
<line x1="786.1" y1="762.41" x2="790.6" y2="762.41" stroke="#000" stroke-width="2.9" />
<line x1="786.1" y1="758.33" x2="790.6" y2="758.33" stroke="#000" stroke-width="2.9" />
<line x1="786.1" y1="754.8" x2="790.6" y2="754.8" stroke="#000" stroke-width="2.9" />
<line x1="786.1" y1="751.69" x2="790.6" y2="751.69" stroke="#000" stroke-width="2.9" />
<line x1="786.1" y1="730.57" x2="790.6" y2="730.57" stroke="#000" stroke-width="2.9" />
<line x1="786.1" y1="719.84" x2="790.6" y2="719.84" stroke="#000" stroke-width="2.9" />
<line x1="786.1" y1="712.23" x2="790.6" y2="712.23" stroke="#000" stroke-width="2.9" />
<line x1="786.1" y1="706.33" x2="790.6" y2="706.33" stroke="#000" stroke-width="2.9" />
<line x1="786.1" y1="701.51" x2="790.6" y2="701.51" stroke="#000" stroke-width="2.9" />
<line x1="786.1" y1="697.43" x2="790.6" y2="697.43" stroke="#000" stroke-width="2.9" />
<line x1="786.1" y1="693.9" x2="790.6" y2="693.9" stroke="#000" stroke-width="2.9" />
<line x1="786.1" y1="690.79" x2="790.6" y2="690.79" stroke="#000" stroke-width="2.9" />
<line x1="786.1" y1="669.67" x2="790.6" y2="669.67" stroke="#000" stroke-width="2.9" />
<line x1="786.1" y1="658.94" x2="790.6" y2="658.94" stroke="#000" stroke-width="2.9" />
<line x1="786.1" y1="651.33" x2="790.6" y2="651.33" stroke="#000" stroke-width="2.9" />
<line x1="786.1" y1="645.43" x2="790.6" y2="645.43" stroke="#000" stroke-width="2.9" />
<line x1="786.1" y1="640.61" x2="790.6" y2="640.61" stroke="#000" stroke-width="2.9" />
<line x1="786.1" y1="636.53" x2="790.6" y2="636.53" stroke="#000" stroke-width="2.9" />
<line x1="786.1" y1="633" x2="790.6" y2="633" stroke="#000" stroke-width="2.9" />
<line x1="786.1" y1="629.89" x2="790.6" y2="629.89" stroke="#000" stroke-width="2.9" />
<line x1="786.1" y1="608.77" x2="790.6" y2="608.77" stroke="#000" stroke-width="2.9" />
<line x1="786.1" y1="598.04" x2="790.6" y2="598.04" stroke="#000" stroke-width="2.9" />
<text x="776.5" y="700.5" font-family="'Liberation Serif','Times New Roman',serif" font-size="32" font-weight="bold" text-anchor="end">10<tspan font-size="22" dy="-13">-7</tspan></text>
<text x="776.5" y="822.3" font-family="'Liberation Serif','Times New Roman',serif" font-size="32" font-weight="bold" text-anchor="end">10<tspan font-size="22" dy="-13">-9</tspan></text>
<text x="776.5" y="944.1" font-family="'Liberation Serif','Times New Roman',serif" font-size="32" font-weight="bold" text-anchor="end">10<tspan font-size="22" dy="-13">-11</tspan></text>
<text x="776.5" y="1065.9" font-family="'Liberation Serif','Times New Roman',serif" font-size="32" font-weight="bold" text-anchor="end">10<tspan font-size="22" dy="-13">-13</tspan></text>
<line x1="1280" y1="1028.6" x2="1271" y2="1028.6" stroke="#000" stroke-width="2.2" />
<line x1="1280" y1="907.1" x2="1271" y2="907.1" stroke="#000" stroke-width="2.2" />
<line x1="1280" y1="785.6" x2="1271" y2="785.6" stroke="#000" stroke-width="2.2" />
<line x1="1280" y1="664.1" x2="1271" y2="664.1" stroke="#000" stroke-width="2.2" />
<line x1="1280" y1="967.85" x2="1275.5" y2="967.85" stroke="#000" stroke-width="2.2" />
<line x1="1280" y1="846.35" x2="1275.5" y2="846.35" stroke="#000" stroke-width="2.2" />
<line x1="1280" y1="724.85" x2="1275.5" y2="724.85" stroke="#000" stroke-width="2.2" />
<line x1="1280" y1="603.35" x2="1275.5" y2="603.35" stroke="#000" stroke-width="2.2" />
<text x="1289.5" y="1039.2" font-family="'Liberation Serif','Times New Roman',serif" font-size="32" font-weight="bold" text-anchor="start" >0</text>
<text x="1289.5" y="917.7" font-family="'Liberation Serif','Times New Roman',serif" font-size="32" font-weight="bold" text-anchor="start" >500</text>
<text x="1289.5" y="796.2" font-family="'Liberation Serif','Times New Roman',serif" font-size="32" font-weight="bold" text-anchor="start" >1000</text>
<text x="1289.5" y="674.7" font-family="'Liberation Serif','Times New Roman',serif" font-size="32" font-weight="bold" text-anchor="start" >1500</text>
<text transform="translate(699.3,862.7) rotate(-90)" font-family="'Liberation Serif','Times New Roman',serif" font-size="33" font-weight="bold">I<tspan font-size="22" dy="8">D</tspan><tspan dy="-8"> (A)</tspan></text>
<text x="996.5" y="1128" font-family="'Liberation Serif','Times New Roman',serif" font-size="33" font-weight="bold">V<tspan font-size="22" dy="8">D</tspan><tspan dy="-8"> (V)</tspan></text>
<text x="696" y="612.9" font-family="'Liberation Serif','Times New Roman',serif" font-size="24" font-weight="normal" text-anchor="start" >(e)</text>
<line x1="806.6" y1="624.3" x2="867.8" y2="624.3" stroke="#0000ff" stroke-width="4.4" />
<text x="881" y="635" font-family="'Liberation Serif','Times New Roman',serif" font-size="32" xml:space="preserve"><tspan font-size="32" dy="0">In</tspan><tspan font-size="22" dy="9">2</tspan><tspan font-size="32" dy="-9">Se</tspan><tspan font-size="22" dy="9">3</tspan><tspan font-size="32" dy="-9">/WSe</tspan><tspan font-size="22" dy="9">2</tspan><tspan font-size="32" dy="-9">/ReS</tspan><tspan font-size="22" dy="9">2</tspan></text>
<rect x="1503.6" y="594.8" width="493.7" height="472.2" fill="none" stroke="#000" stroke-width="3.4"/>
<line x1="1558.2" y1="1067" x2="1558.2" y2="1058" stroke="#000" stroke-width="3" />
<line x1="1654.6" y1="1067" x2="1654.6" y2="1058" stroke="#000" stroke-width="3" />
<line x1="1751" y1="1067" x2="1751" y2="1058" stroke="#000" stroke-width="3" />
<line x1="1847.4" y1="1067" x2="1847.4" y2="1058" stroke="#000" stroke-width="3" />
<line x1="1943.8" y1="1067" x2="1943.8" y2="1058" stroke="#000" stroke-width="3" />
<line x1="1510" y1="1067" x2="1510" y2="1062.5" stroke="#000" stroke-width="3" />
<line x1="1606.4" y1="1067" x2="1606.4" y2="1062.5" stroke="#000" stroke-width="3" />
<line x1="1702.8" y1="1067" x2="1702.8" y2="1062.5" stroke="#000" stroke-width="3" />
<line x1="1799.2" y1="1067" x2="1799.2" y2="1062.5" stroke="#000" stroke-width="3" />
<line x1="1895.6" y1="1067" x2="1895.6" y2="1062.5" stroke="#000" stroke-width="3" />
<line x1="1992" y1="1067" x2="1992" y2="1062.5" stroke="#000" stroke-width="3" />
<text x="1558.2" y="1103" font-family="'Liberation Serif','Times New Roman',serif" font-size="32" font-weight="bold" text-anchor="middle" >-4</text>
<text x="1654.6" y="1103" font-family="'Liberation Serif','Times New Roman',serif" font-size="32" font-weight="bold" text-anchor="middle" >-2</text>
<text x="1751" y="1103" font-family="'Liberation Serif','Times New Roman',serif" font-size="32" font-weight="bold" text-anchor="middle" >0</text>
<text x="1847.4" y="1103" font-family="'Liberation Serif','Times New Roman',serif" font-size="32" font-weight="bold" text-anchor="middle" >2</text>
<text x="1943.8" y="1103" font-family="'Liberation Serif','Times New Roman',serif" font-size="32" font-weight="bold" text-anchor="middle" >4</text>
<line x1="1503.6" y1="1066.6" x2="1512.6" y2="1066.6" stroke="#000" stroke-width="3.4" />
<line x1="1503.6" y1="1003.5" x2="1512.6" y2="1003.5" stroke="#000" stroke-width="3.4" />
<line x1="1503.6" y1="940.4" x2="1512.6" y2="940.4" stroke="#000" stroke-width="3.4" />
<line x1="1503.6" y1="877.3" x2="1512.6" y2="877.3" stroke="#000" stroke-width="3.4" />
<line x1="1503.6" y1="814.2" x2="1512.6" y2="814.2" stroke="#000" stroke-width="3.4" />
<line x1="1503.6" y1="751.1" x2="1512.6" y2="751.1" stroke="#000" stroke-width="3.4" />
<line x1="1503.6" y1="688" x2="1512.6" y2="688" stroke="#000" stroke-width="3.4" />
<line x1="1503.6" y1="624.9" x2="1512.6" y2="624.9" stroke="#000" stroke-width="3.4" />
<line x1="1503.6" y1="1047.61" x2="1508.1" y2="1047.61" stroke="#000" stroke-width="2.9" />
<line x1="1503.6" y1="1036.49" x2="1508.1" y2="1036.49" stroke="#000" stroke-width="2.9" />
<line x1="1503.6" y1="1028.61" x2="1508.1" y2="1028.61" stroke="#000" stroke-width="2.9" />
<line x1="1503.6" y1="1022.49" x2="1508.1" y2="1022.49" stroke="#000" stroke-width="2.9" />
<line x1="1503.6" y1="1017.5" x2="1508.1" y2="1017.5" stroke="#000" stroke-width="2.9" />
<line x1="1503.6" y1="1013.27" x2="1508.1" y2="1013.27" stroke="#000" stroke-width="2.9" />
<line x1="1503.6" y1="1009.62" x2="1508.1" y2="1009.62" stroke="#000" stroke-width="2.9" />
<line x1="1503.6" y1="1006.39" x2="1508.1" y2="1006.39" stroke="#000" stroke-width="2.9" />
<line x1="1503.6" y1="984.51" x2="1508.1" y2="984.51" stroke="#000" stroke-width="2.9" />
<line x1="1503.6" y1="973.39" x2="1508.1" y2="973.39" stroke="#000" stroke-width="2.9" />
<line x1="1503.6" y1="965.51" x2="1508.1" y2="965.51" stroke="#000" stroke-width="2.9" />
<line x1="1503.6" y1="959.39" x2="1508.1" y2="959.39" stroke="#000" stroke-width="2.9" />
<line x1="1503.6" y1="954.4" x2="1508.1" y2="954.4" stroke="#000" stroke-width="2.9" />
<line x1="1503.6" y1="950.17" x2="1508.1" y2="950.17" stroke="#000" stroke-width="2.9" />
<line x1="1503.6" y1="946.52" x2="1508.1" y2="946.52" stroke="#000" stroke-width="2.9" />
<line x1="1503.6" y1="943.29" x2="1508.1" y2="943.29" stroke="#000" stroke-width="2.9" />
<line x1="1503.6" y1="921.41" x2="1508.1" y2="921.41" stroke="#000" stroke-width="2.9" />
<line x1="1503.6" y1="910.29" x2="1508.1" y2="910.29" stroke="#000" stroke-width="2.9" />
<line x1="1503.6" y1="902.41" x2="1508.1" y2="902.41" stroke="#000" stroke-width="2.9" />
<line x1="1503.6" y1="896.29" x2="1508.1" y2="896.29" stroke="#000" stroke-width="2.9" />
<line x1="1503.6" y1="891.3" x2="1508.1" y2="891.3" stroke="#000" stroke-width="2.9" />
<line x1="1503.6" y1="887.07" x2="1508.1" y2="887.07" stroke="#000" stroke-width="2.9" />
<line x1="1503.6" y1="883.42" x2="1508.1" y2="883.42" stroke="#000" stroke-width="2.9" />
<line x1="1503.6" y1="880.19" x2="1508.1" y2="880.19" stroke="#000" stroke-width="2.9" />
<line x1="1503.6" y1="858.31" x2="1508.1" y2="858.31" stroke="#000" stroke-width="2.9" />
<line x1="1503.6" y1="847.19" x2="1508.1" y2="847.19" stroke="#000" stroke-width="2.9" />
<line x1="1503.6" y1="839.31" x2="1508.1" y2="839.31" stroke="#000" stroke-width="2.9" />
<line x1="1503.6" y1="833.19" x2="1508.1" y2="833.19" stroke="#000" stroke-width="2.9" />
<line x1="1503.6" y1="828.2" x2="1508.1" y2="828.2" stroke="#000" stroke-width="2.9" />
<line x1="1503.6" y1="823.97" x2="1508.1" y2="823.97" stroke="#000" stroke-width="2.9" />
<line x1="1503.6" y1="820.32" x2="1508.1" y2="820.32" stroke="#000" stroke-width="2.9" />
<line x1="1503.6" y1="817.09" x2="1508.1" y2="817.09" stroke="#000" stroke-width="2.9" />
<line x1="1503.6" y1="795.21" x2="1508.1" y2="795.21" stroke="#000" stroke-width="2.9" />
<line x1="1503.6" y1="784.09" x2="1508.1" y2="784.09" stroke="#000" stroke-width="2.9" />
<line x1="1503.6" y1="776.21" x2="1508.1" y2="776.21" stroke="#000" stroke-width="2.9" />
<line x1="1503.6" y1="770.09" x2="1508.1" y2="770.09" stroke="#000" stroke-width="2.9" />
<line x1="1503.6" y1="765.1" x2="1508.1" y2="765.1" stroke="#000" stroke-width="2.9" />
<line x1="1503.6" y1="760.87" x2="1508.1" y2="760.87" stroke="#000" stroke-width="2.9" />
<line x1="1503.6" y1="757.22" x2="1508.1" y2="757.22" stroke="#000" stroke-width="2.9" />
<line x1="1503.6" y1="753.99" x2="1508.1" y2="753.99" stroke="#000" stroke-width="2.9" />
<line x1="1503.6" y1="732.11" x2="1508.1" y2="732.11" stroke="#000" stroke-width="2.9" />
<line x1="1503.6" y1="720.99" x2="1508.1" y2="720.99" stroke="#000" stroke-width="2.9" />
<line x1="1503.6" y1="713.11" x2="1508.1" y2="713.11" stroke="#000" stroke-width="2.9" />
<line x1="1503.6" y1="706.99" x2="1508.1" y2="706.99" stroke="#000" stroke-width="2.9" />
<line x1="1503.6" y1="702" x2="1508.1" y2="702" stroke="#000" stroke-width="2.9" />
<line x1="1503.6" y1="697.77" x2="1508.1" y2="697.77" stroke="#000" stroke-width="2.9" />
<line x1="1503.6" y1="694.12" x2="1508.1" y2="694.12" stroke="#000" stroke-width="2.9" />
<line x1="1503.6" y1="690.89" x2="1508.1" y2="690.89" stroke="#000" stroke-width="2.9" />
<line x1="1503.6" y1="669.01" x2="1508.1" y2="669.01" stroke="#000" stroke-width="2.9" />
<line x1="1503.6" y1="657.89" x2="1508.1" y2="657.89" stroke="#000" stroke-width="2.9" />
<line x1="1503.6" y1="650.01" x2="1508.1" y2="650.01" stroke="#000" stroke-width="2.9" />
<line x1="1503.6" y1="643.89" x2="1508.1" y2="643.89" stroke="#000" stroke-width="2.9" />
<line x1="1503.6" y1="638.9" x2="1508.1" y2="638.9" stroke="#000" stroke-width="2.9" />
<line x1="1503.6" y1="634.67" x2="1508.1" y2="634.67" stroke="#000" stroke-width="2.9" />
<line x1="1503.6" y1="631.02" x2="1508.1" y2="631.02" stroke="#000" stroke-width="2.9" />
<line x1="1503.6" y1="627.79" x2="1508.1" y2="627.79" stroke="#000" stroke-width="2.9" />
<line x1="1503.6" y1="605.91" x2="1508.1" y2="605.91" stroke="#000" stroke-width="2.9" />
<text x="1494" y="700.5" font-family="'Liberation Serif','Times New Roman',serif" font-size="32" font-weight="bold" text-anchor="end">10<tspan font-size="22" dy="-13">-7</tspan></text>
<text x="1494" y="826.7" font-family="'Liberation Serif','Times New Roman',serif" font-size="32" font-weight="bold" text-anchor="end">10<tspan font-size="22" dy="-13">-9</tspan></text>
<text x="1494" y="952.9" font-family="'Liberation Serif','Times New Roman',serif" font-size="32" font-weight="bold" text-anchor="end">10<tspan font-size="22" dy="-13">-11</tspan></text>
<text x="1494" y="1079.1" font-family="'Liberation Serif','Times New Roman',serif" font-size="32" font-weight="bold" text-anchor="end">10<tspan font-size="22" dy="-13">-13</tspan></text>
<line x1="1997.3" y1="1035.6" x2="1988.3" y2="1035.6" stroke="#000" stroke-width="2.2" />
<line x1="1997.3" y1="879.1" x2="1988.3" y2="879.1" stroke="#000" stroke-width="2.2" />
<line x1="1997.3" y1="722.6" x2="1988.3" y2="722.6" stroke="#000" stroke-width="2.2" />
<line x1="1997.3" y1="957.35" x2="1992.8" y2="957.35" stroke="#000" stroke-width="2.2" />
<line x1="1997.3" y1="800.85" x2="1992.8" y2="800.85" stroke="#000" stroke-width="2.2" />
<line x1="1997.3" y1="644.35" x2="1992.8" y2="644.35" stroke="#000" stroke-width="2.2" />
<text x="2007" y="1046.2" font-family="'Liberation Serif','Times New Roman',serif" font-size="32" font-weight="bold" text-anchor="start" >0</text>
<text x="2007" y="889.7" font-family="'Liberation Serif','Times New Roman',serif" font-size="32" font-weight="bold" text-anchor="start" >500</text>
<text x="2007" y="733.2" font-family="'Liberation Serif','Times New Roman',serif" font-size="32" font-weight="bold" text-anchor="start" >1000</text>
<text transform="translate(1417,872) rotate(-90)" font-family="'Liberation Serif','Times New Roman',serif" font-size="33" font-weight="bold">I<tspan font-size="22" dy="8">D</tspan><tspan dy="-8"> (A)</tspan></text>
<text x="1713.5" y="1142" font-family="'Liberation Serif','Times New Roman',serif" font-size="33" font-weight="bold">V<tspan font-size="22" dy="8">D</tspan><tspan dy="-8"> (V)</tspan></text>
<text x="1426" y="612.5" font-family="'Liberation Serif','Times New Roman',serif" font-size="24" font-weight="normal" text-anchor="start" >(f)</text>
<line x1="1550.4" y1="622.6" x2="1611.6" y2="622.6" stroke="#ff0000" stroke-width="4.4" />
<text x="1625" y="633.5" font-family="'Liberation Serif','Times New Roman',serif" font-size="32" xml:space="preserve"><tspan font-size="32" dy="0">In</tspan><tspan font-size="22" dy="9">2</tspan><tspan font-size="32" dy="-9">Se</tspan><tspan font-size="22" dy="9">3</tspan><tspan font-size="32" dy="-9">/WSe</tspan><tspan font-size="22" dy="9">2</tspan></text>
<polyline points="152.1,396.7 154.5,376.7 156.9,376.7 157.9,402.5 160.3,390.1 163.6,420.6 167.1,372 170,395.8 173.1,397.2 176,421 180.3,372 185,391 188.9,421 193.6,372 198.4,389.1 202.2,421 207,371 209.8,369.1 215.5,419.6 223.2,361.5 228.9,399.6 233.7,353.8 237,351 242.2,380.5 248.4,341 250.8,341.4 254.6,356.7 261.3,325 267.4,340.5 275.2,309.3 281.2,317 286.4,295.5 292.5,281.6 296,279 296.56,278.85 297.32,278.74 298.23,278.57 299.21,278.2 300.23,277.52 301.2,276.4 302.16,274.65 303.17,272.31 304.2,269.66 305.23,266.97 306.24,264.49 307.2,262.5 308.1,261.17 308.94,260.32 309.76,259.69 310.59,259.02 311.46,258.05 312.4,256.5 313.45,254.13 314.6,251.1 315.78,247.76 316.95,244.48 318.04,241.6 319,239.5 319.73,238.43 320.26,238.16 320.71,238.29 321.21,238.46 321.9,238.25 322.9,237.3 324.36,235.35 326.2,232.68 328.22,229.64 330.23,226.6 332.02,223.93 333.4,222 334.19,221.17 334.51,221.22 334.62,221.64 334.77,221.92 335.21,221.55 336.2,220 337.87,216.92 340.03,212.65 342.49,207.73 345.04,202.68 347.48,198.06 349.6,194.4 351.35,191.9 352.88,190.16 354.3,188.85 355.72,187.61 357.25,186.11 359,184 361.09,181.06 363.45,177.52 365.93,173.71 368.35,169.97 370.56,166.62 372.4,164 373.83,162.14 374.97,160.77 375.9,159.8 376.7,159.12 377.44,158.62 378.2,158.2 378.86,158.11 379.33,158.5 379.75,159.06 380.24,159.53 380.95,159.6 382,159 383.47,157.61 385.27,155.64 387.28,153.28 389.39,150.73 391.46,148.17 393.4,145.8 395.22,143.45 397.04,140.92 398.82,138.39 400.57,136.03 402.27,134.01 403.9,132.5 405.42,131.73 406.84,131.61 408.2,131.82 409.56,132.08 410.98,132.07 412.5,131.5 414.14,130.22 415.86,128.46 417.64,126.42 419.44,124.36 421.23,122.47 423,121 424.73,119.99 426.43,119.27 428.14,118.74 429.86,118.29 431.6,117.81 433.4,117.2 435.26,116.5 437.19,115.81 439.14,115.09 441.1,114.31 443.03,113.43 444.9,112.4 446.73,111.11 448.54,109.56 450.33,107.91 452.08,106.31 453.77,104.93 455.4,103.9 456.95,103.35 458.44,103.19 459.88,103.23 461.28,103.3 462.65,103.25 464,102.9 465.32,102.17 466.61,101.17 467.86,100.05 469.1,98.93 470.34,97.93 471.6,97.2 472.87,96.8 474.13,96.66 475.4,96.64 476.67,96.63 477.93,96.53 479.2,96.2 480.42,95.64 481.59,94.95 482.76,94.15 483.98,93.28 485.31,92.39 486.8,91.5 488.51,90.55 490.42,89.48 492.43,88.39 494.47,87.35 496.45,86.44 498.3,85.75 499.98,85.39 501.54,85.32 503.06,85.39 504.57,85.43 506.13,85.29 507.8,84.8 509.61,83.83 511.53,82.48 513.49,80.94 515.46,79.42 517.38,78.1 519.2,77.2 520.89,76.86 522.5,76.96 524.06,77.26 525.61,77.56 527.17,77.61 528.8,77.2 530.61,76.16 532.59,74.65 534.6,72.9 536.47,71.15 538.06,69.64 539.2,68.6" fill="none" stroke="#0000ff" stroke-width="4.2" stroke-linejoin="round" stroke-linecap="butt" />
<path d="M149.7,422.07h7.8v7.8h-7.8zM153.56,423.09h7.8v7.8h-7.8zM157.41,421.84h7.8v7.8h-7.8zM161.27,423.02h7.8v7.8h-7.8zM165.12,421.92h7.8v7.8h-7.8zM168.98,423.27h7.8v7.8h-7.8zM172.84,422.26h7.8v7.8h-7.8zM176.69,423.39h7.8v7.8h-7.8zM180.55,422.27h7.8v7.8h-7.8zM184.4,423.32h7.8v7.8h-7.8zM188.26,422.25h7.8v7.8h-7.8zM192.12,423.04h7.8v7.8h-7.8zM195.97,422h7.8v7.8h-7.8zM199.83,423.65h7.8v7.8h-7.8zM203.68,422.21h7.8v7.8h-7.8zM207.54,423.15h7.8v7.8h-7.8zM211.4,421.86h7.8v7.8h-7.8zM215.25,423.76h7.8v7.8h-7.8zM219.11,421.9h7.8v7.8h-7.8zM222.96,423.29h7.8v7.8h-7.8zM226.82,421.62h7.8v7.8h-7.8zM230.68,423h7.8v7.8h-7.8zM234.53,421.7h7.8v7.8h-7.8zM238.39,422.94h7.8v7.8h-7.8zM242.24,421.5h7.8v7.8h-7.8zM246.1,421.92h7.8v7.8h-7.8zM249.96,420.51h7.8v7.8h-7.8zM253.81,421.63h7.8v7.8h-7.8zM257.67,419.72h7.8v7.8h-7.8zM261.52,420.47h7.8v7.8h-7.8zM265.38,418.34h7.8v7.8h-7.8zM269.24,419.23h7.8v7.8h-7.8zM273.09,417.33h7.8v7.8h-7.8zM276.95,417.81h7.8v7.8h-7.8zM280.8,416.15h7.8v7.8h-7.8zM284.66,416.12h7.8v7.8h-7.8zM288.52,413.9h7.8v7.8h-7.8zM292.37,414.49h7.8v7.8h-7.8zM296.23,412.12h7.8v7.8h-7.8zM300.08,412.3h7.8v7.8h-7.8zM303.94,409.65h7.8v7.8h-7.8zM307.8,409.53h7.8v7.8h-7.8zM311.65,406.52h7.8v7.8h-7.8zM315.51,406.78h7.8v7.8h-7.8zM318.7,405h7.8v7.8h-7.8zM322.1,401.6h7.8v7.8h-7.8zM324.8,399h7.8v7.8h-7.8zM329.1,400.1h7.8v7.8h-7.8zM334.3,399h7.8v7.8h-7.8zM337.8,388.6h7.8v7.8h-7.8zM341.6,390.6h7.8v7.8h-7.8zM345.6,385.1h7.8v7.8h-7.8zM349,377.3h7.8v7.8h-7.8zM353.4,379.9h7.8v7.8h-7.8zM357.7,373.8h7.8v7.8h-7.8zM360.3,368.6h7.8v7.8h-7.8zM364.6,364.3h7.8v7.8h-7.8zM369,360h7.8v7.8h-7.8zM372.4,350.4h7.8v7.8h-7.8zM376.8,348.7h7.8v7.8h-7.8zM381.1,351.3h7.8v7.8h-7.8zM384.6,332.2h7.8v7.8h-7.8zM388,340h7.8v7.8h-7.8zM392.4,329.6h7.8v7.8h-7.8zM395.8,315.8h7.8v7.8h-7.8zM400.2,313.2h7.8v7.8h-7.8zM403.6,300.2h7.8v7.8h-7.8zM408,312.3h7.8v7.8h-7.8zM411.4,300.2h7.8v7.8h-7.8zM414.9,290.6h7.8v7.8h-7.8zM419.2,292.4h7.8v7.8h-7.8zM423.6,275.9h7.8v7.8h-7.8zM427,279.4h7.8v7.8h-7.8zM430.5,277.6h7.8v7.8h-7.8zM434.8,267.2h7.8v7.8h-7.8zM438.3,275.9h7.8v7.8h-7.8zM441.8,257.7h7.8v7.8h-7.8zM446.1,261.2h7.8v7.8h-7.8zM450.4,246.4h7.8v7.8h-7.8zM453.9,243h7.8v7.8h-7.8zM458.2,249h7.8v7.8h-7.8zM460.8,226.5h7.8v7.8h-7.8zM465.2,228.4h7.8v7.8h-7.8zM469.4,223.9h7.8v7.8h-7.8zM473.4,210.6h7.8v7.8h-7.8zM476.9,209.9h7.8v7.8h-7.8zM480.8,189.8h7.8v7.8h-7.8zM483.8,193.3h7.8v7.8h-7.8zM488,193.3h7.8v7.8h-7.8zM492.2,185.7h7.8v7.8h-7.8zM496.3,178.7h7.8v7.8h-7.8zM499.8,175.3h7.8v7.8h-7.8zM503.9,164.9h7.8v7.8h-7.8zM507.7,151h7.8v7.8h-7.8zM511.6,143.4h7.8v7.8h-7.8zM515.5,133h7.8v7.8h-7.8zM519.2,144h7.8v7.8h-7.8zM523.4,144h7.8v7.8h-7.8zM527.1,135h7.8v7.8h-7.8zM530.7,108.7h7.8v7.8h-7.8zM534.9,92.7h7.8v7.8h-7.8z" fill="none" stroke="#0000ff" stroke-width="1.7"/>
<polyline points="839.1,43.5 843.81,44.44 850.37,45.73 858.11,47.26 866.4,48.91 874.58,50.57 882,52.1 888.88,53.54 895.77,54.98 902.56,56.42 909.11,57.86 915.3,59.28 921,60.7 926.12,62.09 930.73,63.46 934.98,64.82 939.01,66.19 942.97,67.57 947,69 951.08,70.43 955.09,71.83 959.02,73.26 962.89,74.75 966.68,76.35 970.4,78.1 974.05,80.01 977.62,82.05 981.13,84.19 984.56,86.43 987.91,88.74 991.2,91.1 994.41,93.49 997.56,95.91 1000.62,98.41 1003.62,101.02 1006.55,103.77 1009.4,106.7 1012.15,109.76 1014.79,112.91 1017.36,116.21 1019.9,119.7 1022.43,123.45 1025,127.5 1027.71,132.09 1030.54,137.23 1033.37,142.61 1036.07,147.96 1038.53,152.99 1040.6,157.4 1042.18,161.02 1043.34,164.04 1044.26,166.74 1045.08,169.39 1045.97,172.25 1047.1,175.6 1048.5,179.48 1050.04,183.69 1051.65,188.11 1053.26,192.64 1054.8,197.18 1056.2,201.6 1057.45,205.99 1058.61,210.46 1059.69,214.93 1060.73,219.32 1061.72,223.57 1062.7,227.6 1063.64,231.49 1064.53,235.3 1065.38,238.97 1066.21,242.43 1067.05,245.6 1067.9,248.4 1068.78,250.58 1069.68,252.16 1070.58,253.44 1071.46,254.76 1072.31,256.43 1073.1,258.8 1073.85,262.02 1074.58,265.88 1075.27,270.1 1075.91,274.41 1076.49,278.53 1077,282.2 1077.39,285.5 1077.67,288.65 1077.88,291.62 1078.09,294.37 1078.34,296.84 1078.7,299 1079.19,300.51 1079.77,301.36 1080.39,301.93 1081.02,302.62 1081.61,303.85 1082.1,306 1082.5,309.13 1082.86,312.94 1083.16,317.27 1083.43,321.99 1083.68,326.94 1083.9,332 1084.1,337.68 1084.27,344.21 1084.41,350.98 1084.53,357.38 1084.62,362.82 1084.7,366.7 1085.6,432.5 1086.5,435 1088.54,339.23 1090.57,397.51 1092.61,330.64 1094.64,358.14 1096.68,344.71 1098.71,377.43 1100.75,342.05 1102.78,381.8 1104.82,331.41 1106.85,382.91 1108.89,335.69 1110.92,401.12 1112.96,341.92 1114.99,388.48 1117.03,351.79 1119.06,366.8 1121.1,342.06 1123.13,376.01 1125.17,325.51 1127.2,391.95 1129.24,329.43 1131.27,397.31 1133.31,335.48 1135.34,397.94 1137.38,347.92 1139.41,373.6 1141.45,348.53 1143.48,359.85 1145.52,328.96 1147.55,377.22 1149.59,329.88 1151.62,373.79 1153.66,338.99 1155.69,420.4 1157.73,340.53 1159.76,354.81 1161.8,345.4 1163.83,393.49 1165.87,333.97 1167.9,384.98 1169.94,324.02 1171.97,360.44 1174.01,323.58 1176.04,359.87 1178.08,332.91 1180.11,397.47 1182.15,326.46 1184.18,370.06 1186.22,325.69 1188.25,403.64 1190.29,462.9 1192.32,357.31 1194.36,329.94 1196.39,360.39 1198.43,350.53 1200.46,359.62 1202.5,322.81 1204.53,425 1206.57,342.89 1208.6,371.07 1210.64,345.16 1212.67,392.51 1214.71,328.69 1216.74,403.22 1218.78,346.18 1220.81,390.47 1222.85,337.53 1224.88,447 1226.92,330.38 1228.95,388.01 1230.99,335.42 1233.02,403.38 1235.06,332.94 1237.09,363.8 1239.13,328.13 1241.16,398.82 1243.2,336.38 1245.23,393.58 1247.27,341.82 1248.5,395" fill="none" stroke="#ff0000" stroke-width="4.0" stroke-linejoin="round" stroke-linecap="butt" />
<path d="M836.59,74.85h8.2v8.2h-8.2zM840.66,83.91h8.2v8.2h-8.2zM844.73,92.97h8.2v8.2h-8.2zM848.8,102.03h8.2v8.2h-8.2zM852.87,111.09h8.2v8.2h-8.2zM856.95,120.16h8.2v8.2h-8.2zM861.02,128.43h8.2v8.2h-8.2zM865.09,136.67h8.2v8.2h-8.2zM869.16,144.91h8.2v8.2h-8.2zM873.23,153.15h8.2v8.2h-8.2zM877.3,161.39h8.2v8.2h-8.2zM881.37,170.35h8.2v8.2h-8.2zM885.44,179.43h8.2v8.2h-8.2zM889.52,188.51h8.2v8.2h-8.2zM893.59,197.59h8.2v8.2h-8.2zM897.66,206.68h8.2v8.2h-8.2zM901.73,215.76h8.2v8.2h-8.2zM905.8,224.12h8.2v8.2h-8.2zM909.87,231.65h8.2v8.2h-8.2zM913.94,239.18h8.2v8.2h-8.2zM918.01,246.71h8.2v8.2h-8.2zM922.09,254.24h8.2v8.2h-8.2zM926.16,261.77h8.2v8.2h-8.2zM930.23,269.3h8.2v8.2h-8.2zM934.3,276.73h8.2v8.2h-8.2zM938.37,284.17h8.2v8.2h-8.2zM942.44,291.63h8.2v8.2h-8.2zM946.51,299.24h8.2v8.2h-8.2zM950.58,306.86h8.2v8.2h-8.2zM954.65,314.47h8.2v8.2h-8.2zM958.73,321.8h8.2v8.2h-8.2zM962.8,329h8.2v8.2h-8.2zM966.87,336.2h8.2v8.2h-8.2zM970.94,343.42h8.2v8.2h-8.2zM975.01,350.8h8.2v8.2h-8.2zM979.08,358.19h8.2v8.2h-8.2zM983.15,365.44h8.2v8.2h-8.2zM987.22,372.7h8.2v8.2h-8.2zM991.3,379.36h8.2v8.2h-8.2zM995.37,385.92h8.2v8.2h-8.2zM999.44,392.45h8.2v8.2h-8.2zM1003.51,398.99h8.2v8.2h-8.2zM1007.58,405.01h8.2v8.2h-8.2zM1011.65,410.67h8.2v8.2h-8.2zM1015.72,415.98h8.2v8.2h-8.2zM1019.79,420.85h8.2v8.2h-8.2zM1023.87,425.1h8.2v8.2h-8.2zM1027.94,427.99h8.2v8.2h-8.2zM1032.01,430.62h8.2v8.2h-8.2zM1036.08,432.26h8.2v8.2h-8.2zM1040.15,433.87h8.2v8.2h-8.2zM1044.22,435.09h8.2v8.2h-8.2zM1048.29,436.31h8.2v8.2h-8.2zM1052.36,437.14h8.2v8.2h-8.2zM1056.43,437.95h8.2v8.2h-8.2zM1060.51,438.1h8.2v8.2h-8.2zM1064.58,438.1h8.2v8.2h-8.2zM1068.65,438.1h8.2v8.2h-8.2zM1072.72,438.1h8.2v8.2h-8.2zM1076.79,438.1h8.2v8.2h-8.2zM1080.86,438.1h8.2v8.2h-8.2zM1084.93,438.1h8.2v8.2h-8.2zM1089,438.1h8.2v8.2h-8.2zM1093.08,438.1h8.2v8.2h-8.2zM1097.15,438.1h8.2v8.2h-8.2zM1101.22,438.1h8.2v8.2h-8.2zM1105.29,438.1h8.2v8.2h-8.2zM1109.36,438.1h8.2v8.2h-8.2zM1113.43,438.1h8.2v8.2h-8.2zM1117.5,438.1h8.2v8.2h-8.2zM1121.57,438.1h8.2v8.2h-8.2zM1125.65,438.1h8.2v8.2h-8.2zM1129.72,438.1h8.2v8.2h-8.2zM1133.79,438.1h8.2v8.2h-8.2zM1137.86,438.1h8.2v8.2h-8.2zM1141.93,438.1h8.2v8.2h-8.2zM1146,438.1h8.2v8.2h-8.2zM1150.07,438.1h8.2v8.2h-8.2zM1154.14,438.1h8.2v8.2h-8.2zM1158.21,438.1h8.2v8.2h-8.2zM1162.29,438.1h8.2v8.2h-8.2zM1166.36,438.1h8.2v8.2h-8.2zM1170.43,438.1h8.2v8.2h-8.2zM1174.5,438.1h8.2v8.2h-8.2zM1178.57,438.1h8.2v8.2h-8.2zM1182.64,438.1h8.2v8.2h-8.2zM1186.71,438.1h8.2v8.2h-8.2zM1190.78,438.1h8.2v8.2h-8.2zM1194.86,438.1h8.2v8.2h-8.2zM1198.93,438.1h8.2v8.2h-8.2zM1203,438.1h8.2v8.2h-8.2zM1207.07,438.1h8.2v8.2h-8.2zM1211.14,438.1h8.2v8.2h-8.2zM1215.21,438.1h8.2v8.2h-8.2zM1219.28,438.1h8.2v8.2h-8.2zM1223.35,438.1h8.2v8.2h-8.2zM1227.43,438.1h8.2v8.2h-8.2zM1231.5,438.1h8.2v8.2h-8.2zM1235.57,438.1h8.2v8.2h-8.2zM1239.64,438.1h8.2v8.2h-8.2zM1243.71,438.1h8.2v8.2h-8.2z" fill="none" stroke="#ff0000" stroke-width="1.6"/>
<polyline points="1553.3,343.1 1555,291 1557,292.2 1559.4,462 1561.8,309.2 1565.5,297 1566.7,314 1570.3,261.9 1574,379.5 1576.4,301.9 1578.8,311.6 1583.7,265.5 1584.9,331 1589.7,277.6 1592.2,318.9 1598.2,258.2 1601.9,365 1604.3,280 1605.5,350.4 1609.1,263.1 1612.8,413.5 1616.4,289.8 1620.1,318.9 1623.7,250.9 1627.3,331 1631,362.5 1632.2,292.2 1637,259.4 1641.9,345.6 1646.7,284.9 1648,318.9 1651.6,264.3 1655.2,333.4 1658.9,292.2 1662.5,269.1 1664.9,318.9 1668.6,277.6 1671,357.7 1674.6,274 1679.5,326.2 1683.1,280 1685.1,362.5 1688.5,263.1 1692.8,270.4 1695.3,292.2 1697.2,406.2 1698.9,280 1701.3,246.1 1702.3,236 1707,231.3 1710.5,217.2 1711.7,226.6 1712.36,225.77 1713.28,224.77 1714.36,223.51 1715.51,221.89 1716.62,219.82 1717.6,217.2 1718.4,213.75 1719.1,209.5 1719.76,204.79 1720.45,199.98 1721.24,195.43 1722.2,191.5 1723.4,188.16 1724.8,185.13 1726.29,182.35 1727.79,179.79 1729.19,177.38 1730.4,175.1 1731.33,173.06 1732.05,171.34 1732.67,169.78 1733.31,168.23 1734.09,166.55 1735.1,164.6 1736.33,162.45 1737.67,160.23 1739.14,157.88 1740.76,155.34 1742.54,152.53 1744.5,149.4 1746.75,145.68 1749.31,141.37 1752.03,136.81 1754.77,132.3 1757.37,128.19 1759.7,124.8 1761.65,122.28 1763.33,120.39 1764.88,118.89 1766.44,117.54 1768.16,116.1 1770.2,114.3 1772.57,112.14 1775.14,109.82 1777.89,107.4 1780.74,104.94 1783.67,102.52 1786.6,100.2 1789.58,97.94 1792.66,95.68 1795.81,93.45 1798.98,91.29 1802.16,89.23 1805.3,87.3 1808.39,85.52 1811.44,83.85 1814.5,82.28 1817.59,80.8 1820.74,79.38 1824,78 1827.35,76.69 1830.77,75.46 1834.26,74.29 1837.81,73.17 1841.42,72.08 1845.1,71 1848.87,69.94 1852.73,68.91 1856.66,67.91 1860.61,66.94 1864.57,66 1868.5,65.1 1872.4,64.24 1876.3,63.43 1880.2,62.64 1884.1,61.89 1888,61.14 1891.9,60.4 1895.85,59.65 1899.87,58.89 1903.89,58.15 1907.85,57.44 1911.67,56.78 1915.3,56.2 1918.69,55.69 1921.88,55.23 1924.94,54.82 1927.94,54.46 1930.94,54.16 1934,53.9 1937.33,53.71 1940.93,53.58 1944.52,53.51 1947.85,53.46 1950.67,53.43 1952.7,53.4" fill="none" stroke="#6b0089" stroke-width="4.6" stroke-linejoin="round" stroke-linecap="butt" />
<path d="M1550.06,463.32h8.2v8.2h-8.2zM1554.04,463.19h8.2v8.2h-8.2zM1558.02,463.17h8.2v8.2h-8.2zM1562,462.9h8.2v8.2h-8.2zM1565.98,462.61h8.2v8.2h-8.2zM1569.96,463.22h8.2v8.2h-8.2zM1573.94,462.77h8.2v8.2h-8.2zM1577.93,463.25h8.2v8.2h-8.2zM1581.91,463.42h8.2v8.2h-8.2zM1585.89,462.85h8.2v8.2h-8.2zM1589.87,462.86h8.2v8.2h-8.2zM1593.85,463.41h8.2v8.2h-8.2zM1597.83,463.2h8.2v8.2h-8.2zM1601.81,462.65h8.2v8.2h-8.2zM1605.79,462.61h8.2v8.2h-8.2zM1609.77,462.64h8.2v8.2h-8.2zM1613.75,463.4h8.2v8.2h-8.2zM1617.73,463.31h8.2v8.2h-8.2zM1621.71,462.65h8.2v8.2h-8.2zM1625.7,463.34h8.2v8.2h-8.2zM1629.68,463.5h8.2v8.2h-8.2zM1633.66,463.18h8.2v8.2h-8.2zM1637.64,462.88h8.2v8.2h-8.2zM1641.62,463.08h8.2v8.2h-8.2zM1645.6,462.67h8.2v8.2h-8.2zM1649.58,462.56h8.2v8.2h-8.2zM1653.56,463.52h8.2v8.2h-8.2zM1657.54,463.21h8.2v8.2h-8.2zM1661.52,463.09h8.2v8.2h-8.2zM1665.5,463.5h8.2v8.2h-8.2zM1669.48,463.01h8.2v8.2h-8.2zM1673.46,463.45h8.2v8.2h-8.2zM1677.45,463.41h8.2v8.2h-8.2zM1681.43,462.8h8.2v8.2h-8.2zM1685.41,462.85h8.2v8.2h-8.2zM1689.39,462.6h8.2v8.2h-8.2zM1693.37,461.9h8.2v8.2h-8.2zM1697.35,461.51h8.2v8.2h-8.2zM1701.33,460.82h8.2v8.2h-8.2zM1705.31,460.13h8.2v8.2h-8.2zM1709.29,459.21h8.2v8.2h-8.2zM1713.27,457.48h8.2v8.2h-8.2zM1717.25,455.63h8.2v8.2h-8.2zM1721.23,453.47h8.2v8.2h-8.2zM1725.22,451.32h8.2v8.2h-8.2zM1729.2,447.02h8.2v8.2h-8.2zM1733.18,443.63h8.2v8.2h-8.2zM1737.16,440.98h8.2v8.2h-8.2zM1741.14,433.73h8.2v8.2h-8.2zM1745.12,431.19h8.2v8.2h-8.2zM1749.1,423.13h8.2v8.2h-8.2zM1753.08,417.47h8.2v8.2h-8.2zM1757.06,408.12h8.2v8.2h-8.2zM1761.04,405.37h8.2v8.2h-8.2zM1765.02,397.85h8.2v8.2h-8.2zM1769,393.17h8.2v8.2h-8.2zM1772.98,385.83h8.2v8.2h-8.2zM1776.97,375.92h8.2v8.2h-8.2zM1780.95,366.91h8.2v8.2h-8.2zM1784.93,360.01h8.2v8.2h-8.2zM1788.91,347.26h8.2v8.2h-8.2zM1792.89,340.71h8.2v8.2h-8.2zM1796.87,337.09h8.2v8.2h-8.2zM1800.85,320.25h8.2v8.2h-8.2zM1804.83,309.52h8.2v8.2h-8.2zM1808.81,306.35h8.2v8.2h-8.2zM1812.79,293.17h8.2v8.2h-8.2zM1816.77,283.76h8.2v8.2h-8.2zM1820.75,268.45h8.2v8.2h-8.2zM1824.74,264.46h8.2v8.2h-8.2zM1828.72,259.04h8.2v8.2h-8.2zM1832.7,247.77h8.2v8.2h-8.2zM1836.68,241.93h8.2v8.2h-8.2zM1840.66,236.93h8.2v8.2h-8.2zM1844.64,230.39h8.2v8.2h-8.2zM1848.62,221.41h8.2v8.2h-8.2zM1852.6,215.58h8.2v8.2h-8.2zM1856.58,209.85h8.2v8.2h-8.2zM1860.56,199.94h8.2v8.2h-8.2zM1864.54,189.68h8.2v8.2h-8.2zM1868.52,189.05h8.2v8.2h-8.2zM1872.5,186.11h8.2v8.2h-8.2zM1876.49,177.81h8.2v8.2h-8.2zM1880.47,175.86h8.2v8.2h-8.2zM1884.45,163.67h8.2v8.2h-8.2zM1888.43,154.69h8.2v8.2h-8.2zM1892.41,157.98h8.2v8.2h-8.2zM1896.39,139.63h8.2v8.2h-8.2zM1900.37,129.72h8.2v8.2h-8.2zM1904.35,129.47h8.2v8.2h-8.2zM1908.33,127.81h8.2v8.2h-8.2zM1912.31,114h8.2v8.2h-8.2zM1916.29,107.8h8.2v8.2h-8.2zM1920.27,103.97h8.2v8.2h-8.2zM1924.26,107.33h8.2v8.2h-8.2zM1928.24,95.59h8.2v8.2h-8.2zM1932.22,88.19h8.2v8.2h-8.2zM1936.2,88.11h8.2v8.2h-8.2zM1940.18,78.2h8.2v8.2h-8.2zM1944.16,85.46h8.2v8.2h-8.2zM1948.14,82h8.2v8.2h-8.2zM1871.4,188.6h8.2v8.2h-8.2zM1907.7,130h8.2v8.2h-8.2zM1924.1,107.8h8.2v8.2h-8.2zM1944,85.6h8.2v8.2h-8.2zM1892.5,158.1h8.2v8.2h-8.2zM1809,306.2h8.2v8.2h-8.2zM1796.8,337.4h8.2v8.2h-8.2z" fill="none" stroke="#6b0089" stroke-width="1.6"/>
<polyline points="93.7,973 99.24,969.86 106.9,965.51 115.97,960.37 125.75,954.83 135.53,949.3 144.6,944.2 153.06,939.48 161.5,934.81 169.93,930.15 178.39,925.47 186.91,920.73 195.5,915.9 204.25,910.93 213.16,905.84 222.13,900.69 231.04,895.55 239.8,890.46 248.3,885.5 256.48,880.68 264.41,875.95 272.18,871.28 279.9,866.64 287.68,861.99 295.6,857.3 303.62,852.64 311.63,848.07 319.69,843.49 327.86,838.81 336.18,833.94 344.7,828.8 353.48,823.32 362.49,817.57 371.66,811.62 380.9,805.59 390.14,799.55 399.3,793.6 408.33,787.79 417.28,782.05 426.23,776.31 435.26,770.49 444.45,764.51 453.9,758.3 463.83,751.67 474.21,744.66 484.77,737.49 495.2,730.39 505.2,723.58 514.5,717.3 523.25,711.42 531.73,705.75 539.79,700.37 547.28,695.39 554.07,690.9 560,687 564.86,683.86 568.7,681.42 571.84,679.48 574.57,677.82 577.19,676.23 580,674.5 583.08,672.57 586.22,670.61 589.25,668.72 592,667 594.31,665.56 596,664.5" fill="none" stroke="#ff0000" stroke-width="5" stroke-linejoin="round" stroke-linecap="butt" />
<polyline points="93.7,838.2 101.18,837.59 111.48,836.74 123.71,835.73 136.94,834.67 150.28,833.66 162.8,832.8 174.71,832.06 186.76,831.35 198.92,830.69 211.13,830.09 223.34,829.56 235.5,829.1 247.42,828.72 259.09,828.43 270.76,828.19 282.68,828.02 295.11,827.89 308.3,827.8 322.59,827.78 337.85,827.84 353.62,827.96 369.43,828.08 384.81,828.17 399.3,828.2 413.22,828.17 427.01,828.1 440.37,828.01 453.01,827.89 464.66,827.75 475,827.6 483.43,827.44 490.07,827.28 495.69,827.09 501.11,826.88 507.11,826.62 514.5,826.3 523.84,825.91 534.61,825.46 545.96,824.97 557.06,824.45 567.05,823.92 575.1,823.4 581.12,822.85 585.78,822.24 589.34,821.62 592.05,821.04 594.19,820.55 596,820.2" fill="none" stroke="#0000ff" stroke-width="5" stroke-linejoin="round" stroke-linecap="butt" />
<polyline points="93.7,838 101.18,837.39 111.48,836.53 123.71,835.53 136.94,834.47 150.28,833.46 162.8,832.6 174.71,831.87 186.76,831.18 198.92,830.54 211.13,829.96 223.34,829.44 235.5,829 247.42,828.64 259.09,828.36 270.76,828.15 282.68,827.99 295.11,827.88 308.3,827.8 322.59,827.78 337.85,827.85 353.62,827.96 369.43,828.07 384.81,828.17 399.3,828.2 413.22,828.18 427.01,828.13 440.37,828.05 453.01,827.95 464.66,827.83 475,827.7 483.43,827.56 490.07,827.4 495.69,827.23 501.11,827.02 507.11,826.78 514.5,826.5 523.84,826.14 534.61,825.71 545.96,825.25 557.06,824.79 567.05,824.36 575.1,824 581.12,823.71 585.78,823.46 589.34,823.24 592.05,823.06 594.19,822.92 596,822.8" fill="none" stroke="#7f00ff" stroke-width="5" stroke-linejoin="round" stroke-linecap="butt" />
<line x1="787.8" y1="833.5" x2="1176" y2="833.5" stroke="#009600" stroke-width="3" stroke-dasharray="8.7 7.1" stroke-dashoffset="0"/>
<line x1="1129.5" y1="615.8" x2="1280" y2="615.8" stroke="#009600" stroke-width="3" stroke-dasharray="8.7 7.1" stroke-dashoffset="0"/>
<line x1="1142.5" y1="641" x2="1142.5" y2="812" stroke="#009600" stroke-width="3" stroke-dasharray="8.7 7.1" stroke-dashoffset="2"/>
<path d="M1142.5,616.9L1148.8,641.6L1136.2,641.6z" fill="#009600"/>
<path d="M1142.5,836.2L1136.2,811.5L1148.8,811.5z" fill="#009600"/>
<polyline points="786.9,835.3 804.1,838.1 815.5,838.7 821.2,841.4 834.6,844.8 846,847.1 868.9,852 884.1,855.3 891.7,856.6 903.2,858.1 918.4,861 929.8,863.9 937.5,864.4 948.9,865.8 954.6,870 964.1,871.1 968,869.6 983.2,875.7 994.6,876.8 1006.1,882.5 1013.7,887.7 1018.5,889.6 1023.2,898.2 1028,909.6 1029.9,932.5 1032.8,972.5 1035.6,932.5 1038.5,898.2 1044.2,865.8 1044.68,863.53 1045.36,860.38 1046.16,856.65 1047,852.64 1047.81,848.66 1048.5,845 1049.07,841.61 1049.59,838.24 1050.07,834.89 1050.53,831.57 1051,828.27 1051.5,825 1052.01,821.7 1052.53,818.37 1053.05,815.07 1053.58,811.85 1054.13,808.77 1054.7,805.9 1055.29,803.26 1055.89,800.82 1056.5,798.52 1057.14,796.31 1057.8,794.16 1058.5,792 1059.22,789.89 1059.96,787.87 1060.72,785.89 1061.52,783.92 1062.38,781.91 1063.3,779.8 1064.29,777.6 1065.33,775.34 1066.42,773.03 1067.56,770.7 1068.76,768.35 1070,766 1071.21,763.75 1072.37,761.6 1073.58,759.44 1074.94,757.14 1076.55,754.6 1078.5,751.7 1080.86,748.33 1083.56,744.56 1086.51,740.55 1089.61,736.44 1092.78,732.37 1095.9,728.5 1099.1,724.7 1102.49,720.83 1105.93,717 1109.3,713.34 1112.5,709.97 1115.4,707 1117.94,704.54 1120.21,702.51 1122.31,700.76 1124.31,699.16 1126.31,697.55 1128.4,695.8 1130.49,693.93 1132.49,692.06 1134.49,690.19 1136.59,688.31 1138.86,686.42 1141.4,684.5 1144.25,682.58 1147.34,680.66 1150.61,678.73 1154,676.75 1157.45,674.72 1160.9,672.6 1164.38,670.36 1167.94,668.02 1171.56,665.62 1175.21,663.2 1178.87,660.81 1182.5,658.5 1186.11,656.24 1189.73,654 1193.34,651.79 1196.96,649.63 1200.58,647.53 1204.2,645.5 1207.82,643.56 1211.44,641.7 1215.06,639.9 1218.67,638.14 1222.29,636.42 1225.9,634.7 1229.39,633.02 1232.74,631.4 1236.09,629.8 1239.57,628.2 1243.33,626.58 1247.5,624.9 1252.54,623.03 1258.43,620.97 1264.6,618.89 1270.47,616.94 1275.46,615.29 1279,614.1" fill="none" stroke="#0000ff" stroke-width="4.2" stroke-linejoin="round" stroke-linecap="butt" />
<polyline points="786.1,1028.6 795.98,1028.6 805.86,1028.6 815.73,1028.6 825.61,1028.6 835.49,1028.6 845.37,1028.6 855.25,1028.6 865.12,1028.6 875,1028.6 884.88,1028.6 894.76,1028.6 904.64,1028.6 914.51,1028.6 924.39,1028.6 934.27,1028.6 944.15,1028.6 954.03,1028.6 963.9,1028.6 973.78,1028.6 983.66,1028.6 993.54,1028.6 1003.42,1028.6 1013.29,1028.6 1023.17,1028.6 1033.05,1028.6 1042.93,1028.6 1052.81,1028.4 1062.68,1027.9 1072.56,1027.3 1082.44,1026.2 1092.32,1024.2 1102.2,1021 1112.07,1017.7 1121.95,1013.4 1131.83,1006.9 1141.71,999.3 1151.59,989.6 1161.46,978.7 1171.34,964.6 1181.22,949.5 1191.1,927.8 1200.98,906.2 1210.85,881.2 1220.73,855.2 1230.61,823.8 1240.49,788.5 1250.37,759.9 1260.24,718.1 1270.12,669.3 1280,627.1" fill="none" stroke="#0000ff" stroke-width="4.2" stroke-linejoin="round" stroke-linecap="butt" />
<rect x="780.75" y="1023.25" width="10.7" height="10.7" fill="#fff" stroke="#0000ff" stroke-width="3"/>
<rect x="790.63" y="1023.25" width="10.7" height="10.7" fill="#fff" stroke="#0000ff" stroke-width="3"/>
<rect x="800.51" y="1023.25" width="10.7" height="10.7" fill="#fff" stroke="#0000ff" stroke-width="3"/>
<rect x="810.38" y="1023.25" width="10.7" height="10.7" fill="#fff" stroke="#0000ff" stroke-width="3"/>
<rect x="820.26" y="1023.25" width="10.7" height="10.7" fill="#fff" stroke="#0000ff" stroke-width="3"/>
<rect x="830.14" y="1023.25" width="10.7" height="10.7" fill="#fff" stroke="#0000ff" stroke-width="3"/>
<rect x="840.02" y="1023.25" width="10.7" height="10.7" fill="#fff" stroke="#0000ff" stroke-width="3"/>
<rect x="849.9" y="1023.25" width="10.7" height="10.7" fill="#fff" stroke="#0000ff" stroke-width="3"/>
<rect x="859.77" y="1023.25" width="10.7" height="10.7" fill="#fff" stroke="#0000ff" stroke-width="3"/>
<rect x="869.65" y="1023.25" width="10.7" height="10.7" fill="#fff" stroke="#0000ff" stroke-width="3"/>
<rect x="879.53" y="1023.25" width="10.7" height="10.7" fill="#fff" stroke="#0000ff" stroke-width="3"/>
<rect x="889.41" y="1023.25" width="10.7" height="10.7" fill="#fff" stroke="#0000ff" stroke-width="3"/>
<rect x="899.29" y="1023.25" width="10.7" height="10.7" fill="#fff" stroke="#0000ff" stroke-width="3"/>
<rect x="909.16" y="1023.25" width="10.7" height="10.7" fill="#fff" stroke="#0000ff" stroke-width="3"/>
<rect x="919.04" y="1023.25" width="10.7" height="10.7" fill="#fff" stroke="#0000ff" stroke-width="3"/>
<rect x="928.92" y="1023.25" width="10.7" height="10.7" fill="#fff" stroke="#0000ff" stroke-width="3"/>
<rect x="938.8" y="1023.25" width="10.7" height="10.7" fill="#fff" stroke="#0000ff" stroke-width="3"/>
<rect x="948.68" y="1023.25" width="10.7" height="10.7" fill="#fff" stroke="#0000ff" stroke-width="3"/>
<rect x="958.55" y="1023.25" width="10.7" height="10.7" fill="#fff" stroke="#0000ff" stroke-width="3"/>
<rect x="968.43" y="1023.25" width="10.7" height="10.7" fill="#fff" stroke="#0000ff" stroke-width="3"/>
<rect x="978.31" y="1023.25" width="10.7" height="10.7" fill="#fff" stroke="#0000ff" stroke-width="3"/>
<rect x="988.19" y="1023.25" width="10.7" height="10.7" fill="#fff" stroke="#0000ff" stroke-width="3"/>
<rect x="998.07" y="1023.25" width="10.7" height="10.7" fill="#fff" stroke="#0000ff" stroke-width="3"/>
<rect x="1007.94" y="1023.25" width="10.7" height="10.7" fill="#fff" stroke="#0000ff" stroke-width="3"/>
<rect x="1017.82" y="1023.25" width="10.7" height="10.7" fill="#fff" stroke="#0000ff" stroke-width="3"/>
<rect x="1027.7" y="1023.25" width="10.7" height="10.7" fill="#fff" stroke="#0000ff" stroke-width="3"/>
<rect x="1037.58" y="1023.25" width="10.7" height="10.7" fill="#fff" stroke="#0000ff" stroke-width="3"/>
<rect x="1047.46" y="1023.05" width="10.7" height="10.7" fill="#fff" stroke="#0000ff" stroke-width="3"/>
<rect x="1057.33" y="1022.55" width="10.7" height="10.7" fill="#fff" stroke="#0000ff" stroke-width="3"/>
<rect x="1067.21" y="1021.95" width="10.7" height="10.7" fill="#fff" stroke="#0000ff" stroke-width="3"/>
<rect x="1077.09" y="1020.85" width="10.7" height="10.7" fill="#fff" stroke="#0000ff" stroke-width="3"/>
<rect x="1086.97" y="1018.85" width="10.7" height="10.7" fill="#fff" stroke="#0000ff" stroke-width="3"/>
<rect x="1096.85" y="1015.65" width="10.7" height="10.7" fill="#fff" stroke="#0000ff" stroke-width="3"/>
<rect x="1106.72" y="1012.35" width="10.7" height="10.7" fill="#fff" stroke="#0000ff" stroke-width="3"/>
<rect x="1116.6" y="1008.05" width="10.7" height="10.7" fill="#fff" stroke="#0000ff" stroke-width="3"/>
<rect x="1126.48" y="1001.55" width="10.7" height="10.7" fill="#fff" stroke="#0000ff" stroke-width="3"/>
<rect x="1136.36" y="993.95" width="10.7" height="10.7" fill="#fff" stroke="#0000ff" stroke-width="3"/>
<rect x="1146.24" y="984.25" width="10.7" height="10.7" fill="#fff" stroke="#0000ff" stroke-width="3"/>
<rect x="1156.11" y="973.35" width="10.7" height="10.7" fill="#fff" stroke="#0000ff" stroke-width="3"/>
<rect x="1165.99" y="959.25" width="10.7" height="10.7" fill="#fff" stroke="#0000ff" stroke-width="3"/>
<rect x="1175.87" y="944.15" width="10.7" height="10.7" fill="#fff" stroke="#0000ff" stroke-width="3"/>
<rect x="1185.75" y="922.45" width="10.7" height="10.7" fill="#fff" stroke="#0000ff" stroke-width="3"/>
<rect x="1195.63" y="900.85" width="10.7" height="10.7" fill="#fff" stroke="#0000ff" stroke-width="3"/>
<rect x="1205.5" y="875.85" width="10.7" height="10.7" fill="#fff" stroke="#0000ff" stroke-width="3"/>
<rect x="1215.38" y="849.85" width="10.7" height="10.7" fill="#fff" stroke="#0000ff" stroke-width="3"/>
<rect x="1225.26" y="818.45" width="10.7" height="10.7" fill="#fff" stroke="#0000ff" stroke-width="3"/>
<rect x="1235.14" y="783.15" width="10.7" height="10.7" fill="#fff" stroke="#0000ff" stroke-width="3"/>
<rect x="1245.02" y="754.55" width="10.7" height="10.7" fill="#fff" stroke="#0000ff" stroke-width="3"/>
<rect x="1254.89" y="712.75" width="10.7" height="10.7" fill="#fff" stroke="#0000ff" stroke-width="3"/>
<rect x="1264.77" y="663.95" width="10.7" height="10.7" fill="#fff" stroke="#0000ff" stroke-width="3"/>
<rect x="1274.65" y="621.75" width="10.7" height="10.7" fill="#fff" stroke="#0000ff" stroke-width="3"/>
<text x="1077.8" y="789.8" font-family="'Liberation Serif','Times New Roman',serif" font-size="32" font-weight="bold" fill="#009600">RF = 6×10<tspan dy="-10">3</tspan></text>
<text x="908" y="759.3" font-family="'Liberation Serif','Times New Roman',serif" font-size="31.5" font-weight="bold" text-anchor="start" >n = 1.44</text>
<line x1="1035.6" y1="876.2" x2="987" y2="786.5" stroke="#000" stroke-width="3.2" />
<path d="M976.7,767.9L996.09,787.92L982.91,795.08z" fill="#000"/>
<ellipse cx="1049" cy="878.2" rx="30" ry="17.2" fill="none" stroke="#000" stroke-width="3.3" stroke-dasharray="3.2 3.6"/>
<line x1="1505.3" y1="814.5" x2="1905" y2="814.5" stroke="#009600" stroke-width="3" stroke-dasharray="8.7 7.1" stroke-dashoffset="0"/>
<line x1="1802" y1="617.5" x2="1997.3" y2="617.5" stroke="#009600" stroke-width="3" stroke-dasharray="8.7 7.1" stroke-dashoffset="0"/>
<line x1="1864" y1="643" x2="1864" y2="796" stroke="#009600" stroke-width="3" stroke-dasharray="8.7 7.1" stroke-dashoffset="2"/>
<path d="M1864,618.7L1870.3,644.5L1857.7,644.5z" fill="#009600"/>
<path d="M1864,820L1857.7,795.4L1870.3,795.4z" fill="#009600"/>
<polyline points="1503.6,816.3 1506.7,816.8 1512.4,824 1521,819.2 1527.6,824 1539.1,825.9 1549.6,832.5 1557.2,834.4 1570.5,836.3 1576.2,844.9 1582,841.1 1589.6,844 1595.5,840.3 1605.6,861.3 1610.3,852 1614.2,880.1 1619.6,875.4 1629,883.2 1638.4,885.5 1643.8,882.4 1654,891 1658.7,890.5 1672.7,901.9 1682.8,921.4 1688.3,923.8 1692.2,915.2 1696.9,935.5 1702.3,931.6 1707.8,937 1711.7,969.8 1716.4,939.4 1727.3,969.8 1731.2,932.3 1735.9,991.6 1740.6,958.9 1745.2,971.3 1750.7,969 1756.2,960.4 1757.7,921.4 1760.1,871.5 1762.2,822.3 1762.54,818.97 1762.97,814.33 1763.51,808.86 1764.14,802.99 1764.87,797.19 1765.7,791.9 1766.65,787.03 1767.72,782.19 1768.89,777.41 1770.14,772.73 1771.45,768.18 1772.8,763.8 1774.19,759.52 1775.65,755.31 1777.16,751.23 1778.74,747.34 1780.39,743.71 1782.1,740.4 1783.86,737.54 1785.65,735.09 1787.51,732.91 1789.46,730.82 1791.55,728.67 1793.8,726.3 1796.34,723.63 1799.18,720.77 1802.14,717.86 1805.08,715 1807.82,712.34 1810.2,710 1812.12,708.05 1813.68,706.4 1815.05,704.94 1816.39,703.56 1817.85,702.15 1819.6,700.6 1821.67,698.91 1823.93,697.18 1826.31,695.42 1828.76,693.64 1831.21,691.86 1833.6,690.1 1835.93,688.31 1838.26,686.47 1840.59,684.64 1842.93,682.85 1845.26,681.15 1847.6,679.6 1849.97,678.22 1852.38,676.98 1854.79,675.83 1857.17,674.73 1859.49,673.64 1861.7,672.5 1863.74,671.34 1865.61,670.2 1867.41,669.07 1869.25,667.92 1871.21,666.73 1873.4,665.5 1875.82,664.23 1878.4,662.94 1881.11,661.62 1883.91,660.25 1886.79,658.81 1889.7,657.3 1892.64,655.66 1895.61,653.89 1898.66,652.05 1901.8,650.21 1905.07,648.44 1908.5,646.8 1912.24,645.29 1916.31,643.85 1920.5,642.48 1924.63,641.16 1928.49,639.87 1931.9,638.6 1934.78,637.35 1937.26,636.14 1939.49,634.96 1941.58,633.81 1943.68,632.69 1945.9,631.6 1948.23,630.53 1950.56,629.46 1952.89,628.43 1955.23,627.45 1957.56,626.53 1959.9,625.7 1962.14,625 1964.26,624.42 1966.39,623.91 1968.64,623.4 1971.13,622.85 1974,622.2 1977.58,621.37 1981.86,620.4 1986.38,619.38 1990.71,618.41 1994.39,617.59 1997,617" fill="none" stroke="#ff0000" stroke-width="4.2" stroke-linejoin="round" stroke-linecap="butt" />
<polyline points="1510,1035.4 1519.64,1035.4 1529.28,1035.4 1538.92,1035.4 1548.56,1035.4 1558.2,1035.4 1567.84,1035.4 1577.48,1035.4 1587.12,1035.4 1596.76,1035.4 1606.4,1035.4 1616.04,1035.4 1625.68,1035.4 1635.32,1035.4 1644.96,1035.4 1654.6,1035.4 1664.24,1035.4 1673.88,1035.4 1683.52,1035.4 1693.16,1035.4 1702.8,1035.4 1712.44,1035.4 1722.08,1035.4 1731.72,1035.4 1741.36,1035.4 1751,1035.37 1760.64,1035.1 1770.28,1034 1779.92,1032.3 1789.56,1029.3 1799.2,1025.9 1808.84,1022.4 1818.48,1017.2 1828.12,1010.3 1837.76,1005.1 1847.4,993.8 1857.04,983.4 1866.68,976.5 1876.32,960.9 1885.96,947 1895.6,928.8 1905.24,902.9 1914.88,884.7 1924.52,866 1934.16,844.5 1943.8,806.4 1953.44,775.5 1963.08,750.9 1972.72,711.1 1982.36,673.7 1992,632.8" fill="none" stroke="#ff0000" stroke-width="4.2" stroke-linejoin="round" stroke-linecap="butt" />
<rect x="1504.65" y="1030.05" width="10.7" height="10.7" fill="#fff" stroke="#ff0000" stroke-width="3"/>
<rect x="1514.29" y="1030.05" width="10.7" height="10.7" fill="#fff" stroke="#ff0000" stroke-width="3"/>
<rect x="1523.93" y="1030.05" width="10.7" height="10.7" fill="#fff" stroke="#ff0000" stroke-width="3"/>
<rect x="1533.57" y="1030.05" width="10.7" height="10.7" fill="#fff" stroke="#ff0000" stroke-width="3"/>
<rect x="1543.21" y="1030.05" width="10.7" height="10.7" fill="#fff" stroke="#ff0000" stroke-width="3"/>
<rect x="1552.85" y="1030.05" width="10.7" height="10.7" fill="#fff" stroke="#ff0000" stroke-width="3"/>
<rect x="1562.49" y="1030.05" width="10.7" height="10.7" fill="#fff" stroke="#ff0000" stroke-width="3"/>
<rect x="1572.13" y="1030.05" width="10.7" height="10.7" fill="#fff" stroke="#ff0000" stroke-width="3"/>
<rect x="1581.77" y="1030.05" width="10.7" height="10.7" fill="#fff" stroke="#ff0000" stroke-width="3"/>
<rect x="1591.41" y="1030.05" width="10.7" height="10.7" fill="#fff" stroke="#ff0000" stroke-width="3"/>
<rect x="1601.05" y="1030.05" width="10.7" height="10.7" fill="#fff" stroke="#ff0000" stroke-width="3"/>
<rect x="1610.69" y="1030.05" width="10.7" height="10.7" fill="#fff" stroke="#ff0000" stroke-width="3"/>
<rect x="1620.33" y="1030.05" width="10.7" height="10.7" fill="#fff" stroke="#ff0000" stroke-width="3"/>
<rect x="1629.97" y="1030.05" width="10.7" height="10.7" fill="#fff" stroke="#ff0000" stroke-width="3"/>
<rect x="1639.61" y="1030.05" width="10.7" height="10.7" fill="#fff" stroke="#ff0000" stroke-width="3"/>
<rect x="1649.25" y="1030.05" width="10.7" height="10.7" fill="#fff" stroke="#ff0000" stroke-width="3"/>
<rect x="1658.89" y="1030.05" width="10.7" height="10.7" fill="#fff" stroke="#ff0000" stroke-width="3"/>
<rect x="1668.53" y="1030.05" width="10.7" height="10.7" fill="#fff" stroke="#ff0000" stroke-width="3"/>
<rect x="1678.17" y="1030.05" width="10.7" height="10.7" fill="#fff" stroke="#ff0000" stroke-width="3"/>
<rect x="1687.81" y="1030.05" width="10.7" height="10.7" fill="#fff" stroke="#ff0000" stroke-width="3"/>
<rect x="1697.45" y="1030.05" width="10.7" height="10.7" fill="#fff" stroke="#ff0000" stroke-width="3"/>
<rect x="1707.09" y="1030.05" width="10.7" height="10.7" fill="#fff" stroke="#ff0000" stroke-width="3"/>
<rect x="1716.73" y="1030.05" width="10.7" height="10.7" fill="#fff" stroke="#ff0000" stroke-width="3"/>
<rect x="1726.37" y="1030.05" width="10.7" height="10.7" fill="#fff" stroke="#ff0000" stroke-width="3"/>
<rect x="1736.01" y="1030.05" width="10.7" height="10.7" fill="#fff" stroke="#ff0000" stroke-width="3"/>
<rect x="1745.65" y="1030.02" width="10.7" height="10.7" fill="#fff" stroke="#ff0000" stroke-width="3"/>
<rect x="1755.29" y="1029.75" width="10.7" height="10.7" fill="#fff" stroke="#ff0000" stroke-width="3"/>
<rect x="1764.93" y="1028.65" width="10.7" height="10.7" fill="#fff" stroke="#ff0000" stroke-width="3"/>
<rect x="1774.57" y="1026.95" width="10.7" height="10.7" fill="#fff" stroke="#ff0000" stroke-width="3"/>
<rect x="1784.21" y="1023.95" width="10.7" height="10.7" fill="#fff" stroke="#ff0000" stroke-width="3"/>
<rect x="1793.85" y="1020.55" width="10.7" height="10.7" fill="#fff" stroke="#ff0000" stroke-width="3"/>
<rect x="1803.49" y="1017.05" width="10.7" height="10.7" fill="#fff" stroke="#ff0000" stroke-width="3"/>
<rect x="1813.13" y="1011.85" width="10.7" height="10.7" fill="#fff" stroke="#ff0000" stroke-width="3"/>
<rect x="1822.77" y="1004.95" width="10.7" height="10.7" fill="#fff" stroke="#ff0000" stroke-width="3"/>
<rect x="1832.41" y="999.75" width="10.7" height="10.7" fill="#fff" stroke="#ff0000" stroke-width="3"/>
<rect x="1842.05" y="988.45" width="10.7" height="10.7" fill="#fff" stroke="#ff0000" stroke-width="3"/>
<rect x="1851.69" y="978.05" width="10.7" height="10.7" fill="#fff" stroke="#ff0000" stroke-width="3"/>
<rect x="1861.33" y="971.15" width="10.7" height="10.7" fill="#fff" stroke="#ff0000" stroke-width="3"/>
<rect x="1870.97" y="955.55" width="10.7" height="10.7" fill="#fff" stroke="#ff0000" stroke-width="3"/>
<rect x="1880.61" y="941.65" width="10.7" height="10.7" fill="#fff" stroke="#ff0000" stroke-width="3"/>
<rect x="1890.25" y="923.45" width="10.7" height="10.7" fill="#fff" stroke="#ff0000" stroke-width="3"/>
<rect x="1899.89" y="897.55" width="10.7" height="10.7" fill="#fff" stroke="#ff0000" stroke-width="3"/>
<rect x="1909.53" y="879.35" width="10.7" height="10.7" fill="#fff" stroke="#ff0000" stroke-width="3"/>
<rect x="1919.17" y="860.65" width="10.7" height="10.7" fill="#fff" stroke="#ff0000" stroke-width="3"/>
<rect x="1928.81" y="839.15" width="10.7" height="10.7" fill="#fff" stroke="#ff0000" stroke-width="3"/>
<rect x="1938.45" y="801.05" width="10.7" height="10.7" fill="#fff" stroke="#ff0000" stroke-width="3"/>
<rect x="1948.09" y="770.15" width="10.7" height="10.7" fill="#fff" stroke="#ff0000" stroke-width="3"/>
<rect x="1957.73" y="745.55" width="10.7" height="10.7" fill="#fff" stroke="#ff0000" stroke-width="3"/>
<rect x="1967.37" y="705.75" width="10.7" height="10.7" fill="#fff" stroke="#ff0000" stroke-width="3"/>
<rect x="1977.01" y="668.35" width="10.7" height="10.7" fill="#fff" stroke="#ff0000" stroke-width="3"/>
<rect x="1986.65" y="627.45" width="10.7" height="10.7" fill="#fff" stroke="#ff0000" stroke-width="3"/>
<text x="1802.5" y="774.8" font-family="'Liberation Serif','Times New Roman',serif" font-size="32" font-weight="bold" fill="#009600">RF = 2×10<tspan dy="-10">3</tspan></text>
<text x="1632" y="759.1" font-family="'Liberation Serif','Times New Roman',serif" font-size="31.5" font-weight="bold" text-anchor="start" >n = 2.10</text>
<line x1="1751.5" y1="929.2" x2="1706" y2="791" stroke="#000" stroke-width="3.2" />
<path d="M1698.2,767.7L1713.63,790.66L1699.37,795.34z" fill="#000"/>
<ellipse cx="1764.7" cy="938.5" rx="28.3" ry="16.8" fill="none" stroke="#000" stroke-width="3.3" stroke-dasharray="3.2 3.6"/>
<ellipse cx="392.1" cy="837" rx="16.6" ry="29.3" fill="none" stroke="#000" stroke-width="3.3" stroke-dasharray="3.2 3.6"/>
<line x1="406.9" y1="852.3" x2="416" y2="878" stroke="#000" stroke-width="3" stroke-dasharray="3 3"/>
<path d="M420.5,887.1L409.78,871.66L419.22,868.34z" fill="#000"/>
<rect x="388.4" y="898.9" width="125.8" height="118" fill="#fff" stroke="#000" stroke-width="1.5"/>
<line x1="388.4" y1="1016.9" x2="388.4" y2="1014.4" stroke="#000" stroke-width="1.5" />
<text x="388.4" y="1032.5" font-family="'Liberation Serif','Times New Roman',serif" font-size="16.5" font-weight="bold" text-anchor="middle" >-4</text>
<line x1="419.85" y1="1016.9" x2="419.85" y2="1014.4" stroke="#000" stroke-width="1.5" />
<text x="419.85" y="1032.5" font-family="'Liberation Serif','Times New Roman',serif" font-size="16.5" font-weight="bold" text-anchor="middle" >-2</text>
<line x1="451.3" y1="1016.9" x2="451.3" y2="1014.4" stroke="#000" stroke-width="1.5" />
<text x="451.3" y="1032.5" font-family="'Liberation Serif','Times New Roman',serif" font-size="16.5" font-weight="bold" text-anchor="middle" >0</text>
<line x1="482.75" y1="1016.9" x2="482.75" y2="1014.4" stroke="#000" stroke-width="1.5" />
<text x="482.75" y="1032.5" font-family="'Liberation Serif','Times New Roman',serif" font-size="16.5" font-weight="bold" text-anchor="middle" >2</text>
<line x1="514.2" y1="1016.9" x2="514.2" y2="1014.4" stroke="#000" stroke-width="1.5" />
<text x="514.2" y="1032.5" font-family="'Liberation Serif','Times New Roman',serif" font-size="16.5" font-weight="bold" text-anchor="middle" >4</text>
<line x1="404.12" y1="1016.9" x2="404.12" y2="1015.4" stroke="#000" stroke-width="1.5" />
<line x1="435.57" y1="1016.9" x2="435.57" y2="1015.4" stroke="#000" stroke-width="1.5" />
<line x1="467.03" y1="1016.9" x2="467.03" y2="1015.4" stroke="#000" stroke-width="1.5" />
<line x1="498.48" y1="1016.9" x2="498.48" y2="1015.4" stroke="#000" stroke-width="1.5" />
<line x1="388.4" y1="899.2" x2="390.9" y2="899.2" stroke="#000" stroke-width="1.5" />
<text x="386.3" y="904.7" font-family="'Liberation Serif','Times New Roman',serif" font-size="16.5" font-weight="bold" text-anchor="end" >4</text>
<line x1="388.4" y1="926.9" x2="390.9" y2="926.9" stroke="#000" stroke-width="1.5" />
<text x="386.3" y="932.4" font-family="'Liberation Serif','Times New Roman',serif" font-size="16.5" font-weight="bold" text-anchor="end" >2</text>
<line x1="388.4" y1="954.6" x2="390.9" y2="954.6" stroke="#000" stroke-width="1.5" />
<text x="386.3" y="960.1" font-family="'Liberation Serif','Times New Roman',serif" font-size="16.5" font-weight="bold" text-anchor="end" >0</text>
<line x1="388.4" y1="982.3" x2="390.9" y2="982.3" stroke="#000" stroke-width="1.5" />
<text x="386.3" y="987.8" font-family="'Liberation Serif','Times New Roman',serif" font-size="16.5" font-weight="bold" text-anchor="end" >-2</text>
<line x1="388.4" y1="1010" x2="390.9" y2="1010" stroke="#000" stroke-width="1.5" />
<text x="386.3" y="1015.5" font-family="'Liberation Serif','Times New Roman',serif" font-size="16.5" font-weight="bold" text-anchor="end" >-4</text>
<line x1="388.4" y1="913.05" x2="389.9" y2="913.05" stroke="#000" stroke-width="1.5" />
<line x1="388.4" y1="940.75" x2="389.9" y2="940.75" stroke="#000" stroke-width="1.5" />
<line x1="388.4" y1="968.45" x2="389.9" y2="968.45" stroke="#000" stroke-width="1.5" />
<line x1="388.4" y1="996.15" x2="389.9" y2="996.15" stroke="#000" stroke-width="1.5" />
<text transform="translate(366.2,984.5) rotate(-90)" font-family="'Liberation Serif','Times New Roman',serif" font-size="18" font-weight="bold">I<tspan font-size="12" dy="4.5">D</tspan><tspan dy="-4.5"> (µA)</tspan></text>
<text x="418" y="1053.5" font-family="'Liberation Serif','Times New Roman',serif" font-size="16.5" font-weight="bold">V<tspan font-size="11.5" dy="4.5">D</tspan><tspan dy="-4.5"> (V)</tspan></text>
<clipPath id="ic"><rect x="388.4" y="898.9" width="125.8" height="118"/></clipPath>
<polyline points="388.4,1004 389.25,1002.75 390.4,1001.05 391.77,999.02 393.29,996.8 394.89,994.52 396.5,992.3 398.17,990.06 399.98,987.69 401.87,985.25 403.77,982.82 405.64,980.48 407.4,978.3 409.05,976.26 410.65,974.3 412.2,972.42 413.73,970.64 415.26,968.96 416.8,967.4 418.35,965.96 419.9,964.62 421.45,963.39 423,962.27 424.55,961.24 426.1,960.3 427.64,959.48 429.17,958.77 430.7,958.17 432.25,957.64 433.85,957.16 435.5,956.7 437.18,956.29 438.85,955.95 440.56,955.66 442.36,955.4 444.29,955.15 446.4,954.9 448.78,954.67 451.43,954.48 454.2,954.3 456.97,954.11 459.62,953.89 462,953.6 464.11,953.27 466.04,952.91 467.84,952.51 469.55,952.07 471.22,951.57 472.9,951 474.55,950.34 476.15,949.59 477.7,948.78 479.23,947.94 480.76,947.11 482.3,946.3 483.85,945.52 485.4,944.73 486.95,943.95 488.5,943.17 490.05,942.38 491.6,941.6 493.12,940.85 494.59,940.15 496.06,939.44 497.58,938.7 499.21,937.86 501,936.9 503.13,935.69 505.61,934.24 508.19,932.71 510.64,931.24 512.72,929.98 514.2,929.1" fill="none" stroke="#7f00ff" stroke-width="2" stroke-linejoin="round" stroke-linecap="butt" clip-path="url(#ic)"/>
<polyline points="388.4,1007.1 389.28,1006.17 390.51,1004.9 391.96,1003.38 393.52,1001.74 395.07,1000.07 396.5,998.5 397.82,997.03 399.12,995.57 400.42,994.09 401.71,992.56 403,990.94 404.3,989.2 405.6,987.28 406.9,985.21 408.2,983.05 409.5,980.87 410.8,978.73 412.1,976.7 413.42,974.74 414.76,972.77 416.1,970.86 417.42,969.03 418.69,967.33 419.9,965.8 421.02,964.47 422.08,963.3 423.09,962.26 424.09,961.32 425.08,960.45 426.1,959.6 427.15,958.78 428.2,958.01 429.25,957.31 430.3,956.69 431.35,956.14 432.4,955.7 433.33,955.38 434.13,955.19 434.92,955.08 435.84,955.01 437.02,954.97 438.6,954.9 440.66,954.82 443.1,954.77 445.81,954.73 448.65,954.7 451.49,954.66 454.2,954.6 456.87,954.55 459.63,954.5 462.39,954.46 465.07,954.39 467.56,954.27 469.8,954.1 471.71,953.87 473.36,953.6 474.84,953.29 476.23,952.93 477.62,952.54 479.1,952.1 480.68,951.63 482.29,951.14 483.89,950.61 485.48,950.02 487.02,949.36 488.5,948.6 489.89,947.78 491.22,946.91 492.5,945.96 493.76,944.91 495.02,943.74 496.3,942.4 497.57,940.92 498.81,939.32 500.06,937.59 501.33,935.71 502.67,933.69 504.1,931.5 505.77,928.9 507.67,925.83 509.64,922.62 511.5,919.56 513.07,916.95 514.2,915.1" fill="none" stroke="#0000ff" stroke-width="2" stroke-linejoin="round" stroke-linecap="butt" clip-path="url(#ic)"/>
</svg>
</body></html>
